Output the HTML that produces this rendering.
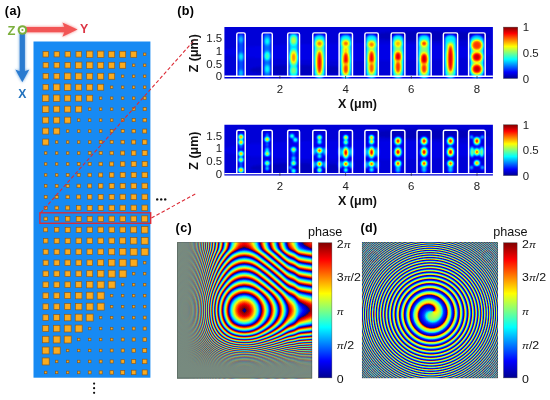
<!DOCTYPE html>
<html><head><meta charset="utf-8"><title>figure</title>
<style>html,body{margin:0;padding:0;background:#fff;width:550px;height:400px;overflow:hidden;font-family:"Liberation Sans",sans-serif}svg text{font-family:"Liberation Sans",sans-serif}.pd{position:absolute;left:0;top:0;width:146.00px;height:146.20px;filter:url(#jmd)}.pw{position:absolute;left:-5px;top:-5px;filter:blur(0.4px)}.pd i{position:absolute;left:0;top:0;width:100%;height:100%;opacity:.5;display:block}:root{--rs:#ffffff 0px,#000000 0px,#ffffff 0px,#ffffff 0.33px,#ffffff 0.67px,#fefefe 1px,#fdfdfd 1.33px,#fdfdfd 1.67px,#fbfbfb 2px,#fafafa 2.33px,#f9f9f9 2.67px,#f7f7f7 3px,#f5f5f5 3.33px,#f3f3f3 3.67px,#f1f1f1 4px,#eeeeee 4.33px,#ececec 4.67px,#e9e9e9 5px,#e6e6e6 5.33px,#e2e2e2 5.67px,#dfdfdf 6px,#dbdbdb 6.33px,#d7d7d7 6.67px,#d3d3d3 7px,#cfcfcf 7.33px,#cbcbcb 7.67px,#c6c6c6 8px,#c1c1c1 8.33px,#bcbcbc 8.67px,#b7b7b7 9px,#b1b1b1 9.33px,#acacac 9.67px,#a6a6a6 10px,#a0a0a0 10.33px,#999999 10.67px,#939393 11px,#8c8c8c 11.33px,#868686 11.67px,#7e7e7e 12px,#777777 12.33px,#707070 12.67px,#686868 13px,#606060 13.33px,#585858 13.67px,#505050 14px,#484848 14.33px,#3f3f3f 14.67px,#363636 15px,#2d2d2d 15.33px,#242424 15.67px,#1b1b1b 16px,#111111 16.33px,#070707 16.67px,#000000 16.9px,#ffffff 16.9px,#fcfcfc 17px,#f2f2f2 17.33px,#e7e7e7 17.67px,#dddddd 18px,#d2d2d2 18.33px,#c7c7c7 18.67px,#bcbcbc 19px,#b0b0b0 19.33px,#a5a5a5 19.67px,#999999 20px,#8d8d8d 20.33px,#818181 20.67px,#747474 21px,#686868 21.33px,#5b5b5b 21.67px,#4e4e4e 22px,#414141 22.33px,#333333 22.67px,#262626 23px,#181818 23.33px,#0a0a0a 23.67px,#000000 23.9px,#ffffff 23.9px,#fbfbfb 24px,#ededed 24.33px,#dedede 24.67px,#cfcfcf 25px,#c0c0c0 25.33px,#b1b1b1 25.67px,#a2a2a2 26px,#929292 26.33px,#828282 26.67px,#727272 27px,#626262 27.33px,#525252 27.67px,#414141 28px,#313131 28.33px,#202020 28.67px,#0e0e0e 29px,#000000 29.28px,#ffffff 29.28px,#fcfcfc 29.33px,#ebebeb 29.67px,#d9d9d9 30px,#c7c7c7 30.33px,#b5b5b5 30.67px,#a2a2a2 31px,#909090 31.33px,#7d7d7d 31.67px,#6a6a6a 32px,#575757 32.33px,#444444 32.67px,#303030 33px,#1c1c1c 33.33px,#080808 33.67px,#000000 33.81px,#ffffff 33.81px,#f3f3f3 34px,#dfdfdf 34.33px,#cacaca 34.67px,#b6b6b6 35px,#a1a1a1 35.33px,#8c8c8c 35.67px,#767676 36px,#616161 36.33px,#4b4b4b 36.67px,#353535 37px,#1f1f1f 37.33px,#090909 37.67px,#000000 37.8px,#ffffff 37.8px,#f1f1f1 38px,#dbdbdb 38.33px,#c4c4c4 38.67px,#adadad 39px,#959595 39.33px,#7e7e7e 39.67px,#666666 40px,#4e4e4e 40.33px,#363636 40.67px,#1e1e1e 41px,#050505 41.33px,#000000 41.4px,#ffffff 41.4px,#ececec 41.67px,#d3d3d3 42px,#bababa 42.33px,#a0a0a0 42.67px,#878787 43px,#6d6d6d 43.33px,#535353 43.67px,#393939 44px,#1f1f1f 44.33px,#040404 44.67px,#000000 44.72px,#ffffff 44.72px,#e9e9e9 45px,#cecece 45.33px,#b3b3b3 45.67px,#979797 46px,#7c7c7c 46.33px,#606060 46.67px,#444444 47px,#282828 47.33px,#0c0c0c 47.67px,#000000 47.81px,#ffffff 47.81px,#efefef 48px,#d2d2d2 48.33px,#b5b5b5 48.67px,#989898 49px,#7b7b7b 49.33px,#5d5d5d 49.67px,#404040 50px,#222222 50.33px,#040404 50.67px,#000000 50.71px,#ffffff 50.71px,#e5e5e5 51px,#c6c6c6 51.33px,#a8a8a8 51.67px,#898989 52px,#6a6a6a 52.33px,#4a4a4a 52.67px,#2b2b2b 53px,#0b0b0b 53.33px,#000000 53.45px,#ffffff 53.45px,#ebebeb 53.67px,#cacaca 54px,#aaaaaa 54.33px,#8a8a8a 54.67px,#696969 55px,#484848 55.33px,#272727 55.67px,#060606 56px,#000000 56.06px,#ffffff 56.06px,#e4e4e4 56.33px,#c2c2c2 56.67px,#a0a0a0 57px,#7e7e7e 57.33px,#5c5c5c 57.67px,#3a3a3a 58px,#171717 58.33px,#000000 58.55px,#ffffff 58.55px,#f3f3f3 58.67px,#d0d0d0 59px,#adadad 59.33px,#8a8a8a 59.67px,#666666 60px,#424242 60.33px,#1e1e1e 60.67px,#000000 60.94px,#ffffff 60.94px,#f9f9f9 61px,#d5d5d5 61.33px,#b0b0b0 61.67px,#8b8b8b 62px,#666666 62.33px,#414141 62.67px,#1c1c1c 63px,#000000 63.25px,#ffffff 63.25px,#f5f5f5 63.33px,#cfcfcf 63.67px,#a9a9a9 64px,#838383 64.33px,#5d5d5d 64.67px,#363636 65px,#0f0f0f 65.33px,#000000 65.47px,#ffffff 65.47px,#e7e7e7 65.67px,#c0c0c0 66px,#999999 66.33px,#717171 66.67px,#4a4a4a 67px,#222222 67.33px,#000000 67.61px,#ffffff 67.61px,#f8f8f8 67.67px,#d0d0d0 68px,#a8a8a8 68.33px,#7f7f7f 68.67px,#565656 69px,#2d2d2d 69.33px,#030303 69.67px,#000000 69.69px,#ffffff 69.69px,#d9d9d9 70px,#afafaf 70.33px,#858585 70.67px,#5b5b5b 71px,#313131 71.33px,#060606 71.67px,#000000 71.71px,#ffffff 71.71px,#dadada 72px,#afafaf 72.33px,#848484 72.67px,#595959 73px,#2d2d2d 73.33px,#020202 73.67px,#000000 73.68px,#ffffff 73.68px,#d5d5d5 74px,#a9a9a9 74.33px,#7c7c7c 74.67px,#505050 75px,#232323 75.33px,#000000 75.59px,#ffffff 75.59px,#f5f5f5 75.67px,#c8c8c8 76px,#9b9b9b 76.33px,#6d6d6d 76.67px,#3f3f3f 77px,#111111 77.33px,#000000 77.46px,#ffffff 77.46px,#e2e2e2 77.67px,#b4b4b4 78px,#868686 78.33px,#575757 78.67px,#282828 79px,#000000 79.28px,#ffffff 79.28px,#f8f8f8 79.33px,#c9c9c9 79.67px,#999999 80px,#696969 80.33px,#393939 80.67px,#090909 81px,#000000 81.06px,#ffffff 81.06px,#d8d8d8 81.33px,#a8a8a8 81.67px,#777777 82px,#464646 82.33px,#151515 82.67px,#000000 82.81px,#ffffff 82.81px,#e3e3e3 83px,#b1b1b1 83.33px,#7f7f7f 83.67px,#4e4e4e 84px,#1b1b1b 84.33px,#000000 84.52px,#ffffff 84.52px,#e8e8e8 84.67px,#b6b6b6 85px,#838383 85.33px,#505050 85.67px,#1d1d1d 86px,#000000 86.19px,#ffffff 86.19px,#e9e9e9 86.33px,#b5b5b5 86.67px,#828282 87px,#4e4e4e 87.33px,#1a1a1a 87.67px,#000000 87.83px,#ffffff 87.83px,#e4e4e4 88px,#b0b0b0 88.33px,#7b7b7b 88.67px,#474747 89px,#111111 89.33px,#000000 89.44px,#ffffff 89.44px,#dbdbdb 89.67px,#a6a6a6 90px,#707070 90.33px,#3a3a3a 90.67px,#040404 91px,#000000 91.03px,#ffffff 91.03px,#cdcdcd 91.33px,#979797 91.67px,#606060 92px,#292929 92.33px,#000000 92.58px,#ffffff 92.58px,#f1f1f1 92.67px,#bababa 93px,#828282 93.33px,#4b4b4b 93.67px,#131313 94px,#000000 94.11px,#ffffff 94.11px,#dadada 94.33px,#a2a2a2 94.67px,#696969 95px,#313131 95.33px,#000000 95.62px,#ffffff 95.62px,#f7f7f7 95.67px,#bebebe 96px,#858585 96.33px,#4b4b4b 96.67px,#111111 97px,#000000 97.1px,#ffffff 97.1px,#d7d7d7 97.33px,#9d9d9d 97.67px,#626262 98px,#282828 98.33px,#000000 98.56px,#ffffff 98.56px,#ececec 98.67px,#b2b2b2 99px,#777777 99.33px,#3b3b3b 99.67px,#000000 100px,#000000 100px,#ffffff 100px,#c3c3c3 100.33px,#888888 100.67px,#4c4c4c 101px,#0f0f0f 101.33px,#000000 101.42px,#ffffff 101.42px,#d2d2d2 101.67px,#959595 102px,#595959 102.33px,#1c1c1c 102.67px,#000000 102.82px,#ffffff 102.82px,#dddddd 103px,#a0a0a0 103.33px,#636363 103.67px,#252525 104px,#000000 104.2px,#ffffff 104.2px,#e6e6e6 104.33px,#a8a8a8 104.67px,#696969 105px,#2b2b2b 105.33px,#000000 105.56px,#ffffff 105.56px,#ebebeb 105.67px,#acacac 106px,#6d6d6d 106.33px,#2d2d2d 106.67px,#000000 106.9px,#ffffff 106.9px,#ededed 107px,#adadad 107.33px,#6d6d6d 107.67px,#2d2d2d 108px,#000000 108.23px,#ffffff 108.23px,#ececec 108.33px,#ababab 108.67px,#6a6a6a 109px,#292929 109.33px,#000000 109.54px,#ffffff 109.54px,#e7e7e7 109.67px,#a6a6a6 110px}</style></head>
<body>
<svg width="550" height="400" viewBox="0 0 550 400" style="position:absolute;left:0;top:0">
<defs><filter id="jm" color-interpolation-filters="sRGB" x="0" y="0" width="1" height="1"><feComponentTransfer><feFuncR type="discrete" tableValues="0 0 0 0 0 0 0 0 0 0 0 0 0 0 0 0 0 0 0 0 0 0 0 0 0 0 0 0 0 0 0 0 0 0 0 0 0 0 0 0 0 0 0 0 0 0 0 0 0.006 0.037 0.069 0.1 0.131 0.163 0.194 0.225 0.257 0.288 0.32 0.351 0.382 0.414 0.445 0.476 0.508 0.539 0.571 0.602 0.633 0.665 0.696 0.727 0.759 0.79 0.822 0.853 0.884 0.916 0.947 0.978 1 1 1 1 1 1 1 1 1 1 1 1 1 1 1 1 1 1 1 1 1 1 1 1 1 1 1 1 1 1 1 1 0.986 0.955 0.924 0.892 0.861 0.829 0.798 0.767 0.735 0.704 0.673 0.641 0.61 0.578 0.547 0.516 0 0 0 0 0 0 0 0 0 0 0 0 0 0 0 0 0 0 0 0 0 0 0 0 0 0 0 0 0 0 0 0 0 0 0 0 0 0 0 0 0 0 0 0 0 0 0 0 0.022 0.053 0.084 0.116 0.147 0.178 0.21 0.241 0.273 0.304 0.335 0.367 0.398 0.429 0.461 0.492 0.524 0.555 0.586 0.618 0.649 0.68 0.712 0.743 0.775 0.806 0.837 0.869 0.9 0.931 0.963 0.994 1 1 1 1 1 1 1 1 1 1 1 1 1 1 1 1 1 1 1 1 1 1 1 1 1 1 1 1 1 1 1 1 0.971 0.939 0.908 0.876 0.845 0.814 0.782 0.751 0.72 0.688 0.657 0.625 0.594 0.563 0.531 0"/><feFuncG type="discrete" tableValues="0 0 0 0 0 0 0 0 0 0 0 0 0 0 0 0 0.002 0.033 0.065 0.096 0.127 0.159 0.19 0.222 0.253 0.284 0.316 0.347 0.378 0.41 0.441 0.473 0.504 0.535 0.567 0.598 0.629 0.661 0.692 0.724 0.755 0.786 0.818 0.849 0.88 0.912 0.943 0.975 1 1 1 1 1 1 1 1 1 1 1 1 1 1 1 1 1 1 1 1 1 1 1 1 1 1 1 1 1 1 1 1 0.99 0.959 0.927 0.896 0.865 0.833 0.802 0.771 0.739 0.708 0.676 0.645 0.614 0.582 0.551 0.52 0.488 0.457 0.425 0.394 0.363 0.331 0.3 0.269 0.237 0.206 0.175 0.143 0.112 0.08 0.049 0.018 0 0 0 0 0 0 0 0 0 0 0 0 0 0 0 0 0 0 0 0 0 0 0 0 0 0 0 0 0 0 0 0 0.018 0.049 0.08 0.112 0.143 0.175 0.206 0.237 0.269 0.3 0.331 0.363 0.394 0.425 0.457 0.488 0.52 0.551 0.582 0.614 0.645 0.676 0.708 0.739 0.771 0.802 0.833 0.865 0.896 0.927 0.959 0.99 1 1 1 1 1 1 1 1 1 1 1 1 1 1 1 1 1 1 1 1 1 1 1 1 1 1 1 1 1 1 1 1 0.975 0.943 0.912 0.88 0.849 0.818 0.786 0.755 0.724 0.692 0.661 0.629 0.598 0.567 0.535 0.504 0.473 0.441 0.41 0.378 0.347 0.316 0.284 0.253 0.222 0.19 0.159 0.127 0.096 0.065 0.033 0.002 0 0 0 0 0 0 0 0 0 0 0 0 0 0 0 0"/><feFuncB type="discrete" tableValues="0.5 0.531 0.563 0.594 0.625 0.657 0.688 0.72 0.751 0.782 0.814 0.845 0.876 0.908 0.939 0.971 1 1 1 1 1 1 1 1 1 1 1 1 1 1 1 1 1 1 1 1 1 1 1 1 1 1 1 1 1 1 1 1 0.994 0.963 0.931 0.9 0.869 0.837 0.806 0.775 0.743 0.712 0.68 0.649 0.618 0.586 0.555 0.524 0.492 0.461 0.429 0.398 0.367 0.335 0.304 0.273 0.241 0.21 0.178 0.147 0.116 0.084 0.053 0.022 0 0 0 0 0 0 0 0 0 0 0 0 0 0 0 0 0 0 0 0 0 0 0 0 0 0 0 0 0 0 0 0 0 0 0 0 0 0 0 0 0 0 0 0 0 0 0 0 0.516 0.547 0.578 0.61 0.641 0.673 0.704 0.735 0.767 0.798 0.829 0.861 0.892 0.924 0.955 0.986 1 1 1 1 1 1 1 1 1 1 1 1 1 1 1 1 1 1 1 1 1 1 1 1 1 1 1 1 1 1 1 1 0.978 0.947 0.916 0.884 0.853 0.822 0.79 0.759 0.727 0.696 0.665 0.633 0.602 0.571 0.539 0.508 0.476 0.445 0.414 0.382 0.351 0.32 0.288 0.257 0.225 0.194 0.163 0.131 0.1 0.069 0.037 0.006 0 0 0 0 0 0 0 0 0 0 0 0 0 0 0 0 0 0 0 0 0 0 0 0 0 0 0 0 0 0 0 0 0 0 0 0 0 0 0 0 0 0 0 0 0 0 0 0.5"/></feComponentTransfer></filter>
<filter id="glow" x="-50%" y="-50%" width="200%" height="200%"><feGaussianBlur stdDeviation="1.7"/></filter>
<linearGradient id="jet" x1="0" y1="1" x2="0" y2="0"><stop offset="0" stop-color="#00008f"/><stop offset=".125" stop-color="#0000ff"/><stop offset=".375" stop-color="#00ffff"/><stop offset=".625" stop-color="#ffff00"/><stop offset=".875" stop-color="#ff0000"/><stop offset="1" stop-color="#800000"/></linearGradient>
<filter id="jht" color-interpolation-filters="sRGB" filterUnits="userSpaceOnUse" x="200" y="0" width="320" height="200"><feGaussianBlur stdDeviation="0.9"/><feComponentTransfer><feFuncR type="table" tableValues="0 0 0 0 .5 1 1 1 .5"/><feFuncG type="table" tableValues="0 0 .5 1 1 1 .5 0 0"/><feFuncB type="table" tableValues=".5 1 1 1 .5 0 0 0 0"/></feComponentTransfer></filter>
<clipPath id="cpt"><rect x="224.4" y="27.1" width="268.5" height="51.4"/></clipPath>
<filter id="jhb" color-interpolation-filters="sRGB" filterUnits="userSpaceOnUse" x="200" y="0" width="320" height="200"><feGaussianBlur stdDeviation="0.85"/><feComponentTransfer><feFuncR type="table" tableValues="0 0 0 0 .5 1 1 1 .5"/><feFuncG type="table" tableValues="0 0 .5 1 1 1 .5 0 0"/><feFuncB type="table" tableValues=".5 1 1 1 .5 0 0 0 0"/></feComponentTransfer></filter>
<clipPath id="cpb"><rect x="224.4" y="124.8" width="268.5" height="50.8"/></clipPath>
<linearGradient id="gu" gradientUnits="userSpaceOnUse" x1="0" y1="0" x2="135.10" y2="0"><stop offset="0" stop-color="#9d9d9d"/><stop offset="0.0022" stop-color="#ffffff"/><stop offset="0.0022" stop-color="#000000"/><stop offset="0.0025" stop-color="#0a0a0a"/><stop offset="0.0049" stop-color="#757575"/><stop offset="0.0074" stop-color="#dfdfdf"/><stop offset="0.0082" stop-color="#ffffff"/><stop offset="0.0082" stop-color="#000000"/><stop offset="0.0099" stop-color="#484848"/><stop offset="0.0123" stop-color="#b0b0b0"/><stop offset="0.0142" stop-color="#ffffff"/><stop offset="0.0142" stop-color="#000000"/><stop offset="0.0148" stop-color="#181818"/><stop offset="0.0173" stop-color="#7d7d7d"/><stop offset="0.0198" stop-color="#e2e2e2"/><stop offset="0.0205" stop-color="#ffffff"/><stop offset="0.0205" stop-color="#000000"/><stop offset="0.0222" stop-color="#474747"/><stop offset="0.0247" stop-color="#aaaaaa"/><stop offset="0.0268" stop-color="#ffffff"/><stop offset="0.0268" stop-color="#000000"/><stop offset="0.0272" stop-color="#0d0d0d"/><stop offset="0.0296" stop-color="#6f6f6f"/><stop offset="0.0321" stop-color="#cfcfcf"/><stop offset="0.0333" stop-color="#ffffff"/><stop offset="0.0333" stop-color="#000000"/><stop offset="0.0346" stop-color="#303030"/><stop offset="0.037" stop-color="#8f8f8f"/><stop offset="0.0395" stop-color="#ededed"/><stop offset="0.04" stop-color="#ffffff"/><stop offset="0.04" stop-color="#000000"/><stop offset="0.042" stop-color="#4c4c4c"/><stop offset="0.0444" stop-color="#a8a8a8"/><stop offset="0.0468" stop-color="#ffffff"/><stop offset="0.0468" stop-color="#000000"/><stop offset="0.0469" stop-color="#040404"/><stop offset="0.0494" stop-color="#5f5f5f"/><stop offset="0.0519" stop-color="#b8b8b8"/><stop offset="0.0538" stop-color="#ffffff"/><stop offset="0.0538" stop-color="#000000"/><stop offset="0.0543" stop-color="#121212"/><stop offset="0.0568" stop-color="#6a6a6a"/><stop offset="0.0593" stop-color="#c1c1c1"/><stop offset="0.061" stop-color="#ffffff"/><stop offset="0.061" stop-color="#000000"/><stop offset="0.0617" stop-color="#181818"/><stop offset="0.0642" stop-color="#6d6d6d"/><stop offset="0.0667" stop-color="#c2c2c2"/><stop offset="0.0685" stop-color="#ffffff"/><stop offset="0.0685" stop-color="#000000"/><stop offset="0.0691" stop-color="#171717"/><stop offset="0.0716" stop-color="#6a6a6a"/><stop offset="0.0741" stop-color="#bcbcbc"/><stop offset="0.0761" stop-color="#ffffff"/><stop offset="0.0761" stop-color="#000000"/><stop offset="0.0765" stop-color="#0f0f0f"/><stop offset="0.079" stop-color="#606060"/><stop offset="0.0815" stop-color="#b0b0b0"/><stop offset="0.084" stop-color="#ffffff"/><stop offset="0.084" stop-color="#ffffff"/><stop offset="0.084" stop-color="#000000"/><stop offset="0.0864" stop-color="#4e4e4e"/><stop offset="0.0889" stop-color="#9b9b9b"/><stop offset="0.0914" stop-color="#e8e8e8"/><stop offset="0.0921" stop-color="#ffffff"/><stop offset="0.0921" stop-color="#000000"/><stop offset="0.0938" stop-color="#343434"/><stop offset="0.0963" stop-color="#7f7f7f"/><stop offset="0.0988" stop-color="#cacaca"/><stop offset="0.1006" stop-color="#ffffff"/><stop offset="0.1006" stop-color="#000000"/><stop offset="0.1012" stop-color="#141414"/><stop offset="0.1037" stop-color="#5d5d5d"/><stop offset="0.1062" stop-color="#a6a6a6"/><stop offset="0.1086" stop-color="#ededed"/><stop offset="0.1093" stop-color="#ffffff"/><stop offset="0.1093" stop-color="#000000"/><stop offset="0.1111" stop-color="#353535"/><stop offset="0.1136" stop-color="#7b7b7b"/><stop offset="0.116" stop-color="#c0c0c0"/><stop offset="0.1183" stop-color="#ffffff"/><stop offset="0.1183" stop-color="#000000"/><stop offset="0.1185" stop-color="#060606"/><stop offset="0.121" stop-color="#4a4a4a"/><stop offset="0.1235" stop-color="#8c8c8c"/><stop offset="0.1259" stop-color="#cecece"/><stop offset="0.1278" stop-color="#ffffff"/><stop offset="0.1278" stop-color="#000000"/><stop offset="0.1284" stop-color="#111111"/><stop offset="0.1309" stop-color="#515151"/><stop offset="0.1333" stop-color="#919191"/><stop offset="0.1358" stop-color="#d0d0d0"/><stop offset="0.1377" stop-color="#ffffff"/><stop offset="0.1377" stop-color="#000000"/><stop offset="0.1383" stop-color="#0f0f0f"/><stop offset="0.1407" stop-color="#4d4d4d"/><stop offset="0.1432" stop-color="#8a8a8a"/><stop offset="0.1457" stop-color="#c6c6c6"/><stop offset="0.148" stop-color="#ffffff"/><stop offset="0.148" stop-color="#000000"/><stop offset="0.1481" stop-color="#030303"/><stop offset="0.1506" stop-color="#3e3e3e"/><stop offset="0.1531" stop-color="#787878"/><stop offset="0.1556" stop-color="#b2b2b2"/><stop offset="0.158" stop-color="#ebebeb"/><stop offset="0.1589" stop-color="#ffffff"/><stop offset="0.1589" stop-color="#000000"/><stop offset="0.1605" stop-color="#252525"/><stop offset="0.163" stop-color="#5d5d5d"/><stop offset="0.1654" stop-color="#959595"/><stop offset="0.1679" stop-color="#cbcbcb"/><stop offset="0.1703" stop-color="#ffffff"/><stop offset="0.1703" stop-color="#000000"/><stop offset="0.1704" stop-color="#020202"/><stop offset="0.1728" stop-color="#373737"/><stop offset="0.1753" stop-color="#6c6c6c"/><stop offset="0.1778" stop-color="#a0a0a0"/><stop offset="0.1802" stop-color="#d3d3d3"/><stop offset="0.1824" stop-color="#ffffff"/><stop offset="0.1824" stop-color="#000000"/><stop offset="0.1827" stop-color="#060606"/><stop offset="0.1852" stop-color="#383838"/><stop offset="0.1877" stop-color="#696969"/><stop offset="0.1901" stop-color="#999999"/><stop offset="0.1926" stop-color="#c8c8c8"/><stop offset="0.1951" stop-color="#f7f7f7"/><stop offset="0.1955" stop-color="#ffffff"/><stop offset="0.1955" stop-color="#000000"/><stop offset="0.1975" stop-color="#272727"/><stop offset="0.2" stop-color="#545454"/><stop offset="0.2025" stop-color="#828282"/><stop offset="0.2049" stop-color="#aeaeae"/><stop offset="0.2074" stop-color="#dadada"/><stop offset="0.2095" stop-color="#ffffff"/><stop offset="0.2095" stop-color="#000000"/><stop offset="0.2099" stop-color="#070707"/><stop offset="0.2123" stop-color="#323232"/><stop offset="0.2148" stop-color="#5c5c5c"/><stop offset="0.2173" stop-color="#868686"/><stop offset="0.2198" stop-color="#afafaf"/><stop offset="0.2222" stop-color="#d7d7d7"/><stop offset="0.2246" stop-color="#ffffff"/><stop offset="0.2246" stop-color="#000000"/><stop offset="0.2247" stop-color="#010101"/><stop offset="0.2272" stop-color="#292929"/><stop offset="0.2296" stop-color="#505050"/><stop offset="0.2321" stop-color="#777777"/><stop offset="0.2346" stop-color="#9e9e9e"/><stop offset="0.237" stop-color="#c4c4c4"/><stop offset="0.2395" stop-color="#eaeaea"/><stop offset="0.2409" stop-color="#ffffff"/><stop offset="0.2409" stop-color="#000000"/><stop offset="0.242" stop-color="#101010"/><stop offset="0.2444" stop-color="#343434"/><stop offset="0.2469" stop-color="#595959"/><stop offset="0.2494" stop-color="#7d7d7d"/><stop offset="0.2519" stop-color="#a1a1a1"/><stop offset="0.2543" stop-color="#c3c3c3"/><stop offset="0.2568" stop-color="#e5e5e5"/><stop offset="0.2587" stop-color="#ffffff"/><stop offset="0.2587" stop-color="#000000"/><stop offset="0.2593" stop-color="#070707"/><stop offset="0.2617" stop-color="#282828"/><stop offset="0.2642" stop-color="#484848"/><stop offset="0.2667" stop-color="#676767"/><stop offset="0.2691" stop-color="#858585"/><stop offset="0.2716" stop-color="#a4a4a4"/><stop offset="0.2741" stop-color="#c1c1c1"/><stop offset="0.2765" stop-color="#dedede"/><stop offset="0.279" stop-color="#fafafa"/><stop offset="0.2794" stop-color="#ffffff"/><stop offset="0.2794" stop-color="#000000"/><stop offset="0.2815" stop-color="#171717"/><stop offset="0.284" stop-color="#333333"/><stop offset="0.2864" stop-color="#4e4e4e"/><stop offset="0.2889" stop-color="#696969"/><stop offset="0.2914" stop-color="#848484"/><stop offset="0.2938" stop-color="#9d9d9d"/><stop offset="0.2963" stop-color="#b7b7b7"/><stop offset="0.2988" stop-color="#cfcfcf"/><stop offset="0.3012" stop-color="#e7e7e7"/><stop offset="0.3037" stop-color="#fefefe"/><stop offset="0.3039" stop-color="#ffffff"/><stop offset="0.3039" stop-color="#000000"/><stop offset="0.3062" stop-color="#151515"/><stop offset="0.3086" stop-color="#2a2a2a"/><stop offset="0.3111" stop-color="#3f3f3f"/><stop offset="0.3136" stop-color="#545454"/><stop offset="0.316" stop-color="#686868"/><stop offset="0.3185" stop-color="#7c7c7c"/><stop offset="0.321" stop-color="#8f8f8f"/><stop offset="0.3235" stop-color="#a2a2a2"/><stop offset="0.3259" stop-color="#b5b5b5"/><stop offset="0.3284" stop-color="#c7c7c7"/><stop offset="0.3309" stop-color="#d9d9d9"/><stop offset="0.3333" stop-color="#eaeaea"/><stop offset="0.3358" stop-color="#fbfbfb"/><stop offset="0.3364" stop-color="#ffffff"/><stop offset="0.3364" stop-color="#000000"/><stop offset="0.3383" stop-color="#0c0c0c"/><stop offset="0.3407" stop-color="#1d1d1d"/><stop offset="0.3432" stop-color="#2d2d2d"/><stop offset="0.3457" stop-color="#3d3d3d"/><stop offset="0.3481" stop-color="#4d4d4d"/><stop offset="0.3506" stop-color="#5c5c5c"/><stop offset="0.3531" stop-color="#6b6b6b"/><stop offset="0.3556" stop-color="#7a7a7a"/><stop offset="0.358" stop-color="#898989"/><stop offset="0.3605" stop-color="#979797"/><stop offset="0.363" stop-color="#a5a5a5"/><stop offset="0.3654" stop-color="#b3b3b3"/><stop offset="0.3679" stop-color="#c1c1c1"/><stop offset="0.3704" stop-color="#cecece"/><stop offset="0.3728" stop-color="#dbdbdb"/><stop offset="0.3753" stop-color="#e8e8e8"/><stop offset="0.3778" stop-color="#f4f4f4"/><stop offset="0.3801" stop-color="#ffffff"/><stop offset="0.3801" stop-color="#000000"/><stop offset="0.3802" stop-color="#010101"/><stop offset="0.3827" stop-color="#0c0c0c"/><stop offset="0.3852" stop-color="#181818"/><stop offset="0.3877" stop-color="#232323"/><stop offset="0.3901" stop-color="#2e2e2e"/><stop offset="0.3926" stop-color="#393939"/><stop offset="0.3951" stop-color="#434343"/><stop offset="0.3975" stop-color="#4d4d4d"/><stop offset="0.4" stop-color="#575757"/><stop offset="0.4025" stop-color="#606060"/><stop offset="0.4049" stop-color="#696969"/><stop offset="0.4074" stop-color="#727272"/><stop offset="0.4099" stop-color="#7a7a7a"/><stop offset="0.4123" stop-color="#818181"/><stop offset="0.4148" stop-color="#888888"/><stop offset="0.4173" stop-color="#909090"/><stop offset="0.4198" stop-color="#969696"/><stop offset="0.4222" stop-color="#9d9d9d"/><stop offset="0.4247" stop-color="#a3a3a3"/><stop offset="0.4272" stop-color="#aaaaaa"/><stop offset="0.4296" stop-color="#afafaf"/><stop offset="0.4321" stop-color="#b5b5b5"/><stop offset="0.4346" stop-color="#bababa"/><stop offset="0.437" stop-color="#bfbfbf"/><stop offset="0.4395" stop-color="#c4c4c4"/><stop offset="0.442" stop-color="#c9c9c9"/><stop offset="0.4444" stop-color="#cecece"/><stop offset="0.4469" stop-color="#d2d2d2"/><stop offset="0.4494" stop-color="#d7d7d7"/><stop offset="0.4519" stop-color="#dbdbdb"/><stop offset="0.4543" stop-color="#dfdfdf"/><stop offset="0.4568" stop-color="#e3e3e3"/><stop offset="0.4593" stop-color="#e6e6e6"/><stop offset="0.4617" stop-color="#e9e9e9"/><stop offset="0.4642" stop-color="#ececec"/><stop offset="0.4667" stop-color="#efefef"/><stop offset="0.4691" stop-color="#f1f1f1"/><stop offset="0.4716" stop-color="#f3f3f3"/><stop offset="0.4741" stop-color="#f4f4f4"/><stop offset="0.4765" stop-color="#f6f6f6"/><stop offset="0.479" stop-color="#f8f8f8"/><stop offset="0.4815" stop-color="#f9f9f9"/><stop offset="0.484" stop-color="#fbfbfb"/><stop offset="0.4864" stop-color="#fcfcfc"/><stop offset="0.4889" stop-color="#fdfdfd"/><stop offset="0.4914" stop-color="#fefefe"/><stop offset="0.4938" stop-color="#ffffff"/><stop offset="0.4963" stop-color="#ffffff"/><stop offset="0.4988" stop-color="#ffffff"/><stop offset="0.5012" stop-color="#ffffff"/><stop offset="0.5037" stop-color="#fefefe"/><stop offset="0.5062" stop-color="#fefefe"/><stop offset="0.5086" stop-color="#fdfdfd"/><stop offset="0.5111" stop-color="#fcfcfc"/><stop offset="0.5136" stop-color="#fafafa"/><stop offset="0.516" stop-color="#f9f9f9"/><stop offset="0.5185" stop-color="#f7f7f7"/><stop offset="0.521" stop-color="#f6f6f6"/><stop offset="0.5235" stop-color="#f4f4f4"/><stop offset="0.5259" stop-color="#f2f2f2"/><stop offset="0.5284" stop-color="#f1f1f1"/><stop offset="0.5309" stop-color="#eeeeee"/><stop offset="0.5333" stop-color="#ececec"/><stop offset="0.5358" stop-color="#e9e9e9"/><stop offset="0.5383" stop-color="#e6e6e6"/><stop offset="0.5407" stop-color="#e3e3e3"/><stop offset="0.5432" stop-color="#dfdfdf"/><stop offset="0.5457" stop-color="#dbdbdb"/><stop offset="0.5481" stop-color="#d7d7d7"/><stop offset="0.5506" stop-color="#d3d3d3"/><stop offset="0.5531" stop-color="#cfcfcf"/><stop offset="0.5556" stop-color="#cacaca"/><stop offset="0.558" stop-color="#c6c6c6"/><stop offset="0.5605" stop-color="#c1c1c1"/><stop offset="0.563" stop-color="#bcbcbc"/><stop offset="0.5654" stop-color="#b7b7b7"/><stop offset="0.5679" stop-color="#b1b1b1"/><stop offset="0.5704" stop-color="#ababab"/><stop offset="0.5728" stop-color="#a5a5a5"/><stop offset="0.5753" stop-color="#9f9f9f"/><stop offset="0.5778" stop-color="#989898"/><stop offset="0.5802" stop-color="#929292"/><stop offset="0.5827" stop-color="#8b8b8b"/><stop offset="0.5852" stop-color="#848484"/><stop offset="0.5877" stop-color="#7e7e7e"/><stop offset="0.5901" stop-color="#777777"/><stop offset="0.5926" stop-color="#6f6f6f"/><stop offset="0.5951" stop-color="#686868"/><stop offset="0.5975" stop-color="#606060"/><stop offset="0.6" stop-color="#585858"/><stop offset="0.6025" stop-color="#505050"/><stop offset="0.6049" stop-color="#474747"/><stop offset="0.6074" stop-color="#3f3f3f"/><stop offset="0.6099" stop-color="#373737"/><stop offset="0.6123" stop-color="#2e2e2e"/><stop offset="0.6148" stop-color="#252525"/><stop offset="0.6173" stop-color="#1d1d1d"/><stop offset="0.6198" stop-color="#141414"/><stop offset="0.6222" stop-color="#0b0b0b"/><stop offset="0.6247" stop-color="#030303"/><stop offset="0.6255" stop-color="#000000"/><stop offset="0.6255" stop-color="#ffffff"/><stop offset="0.6272" stop-color="#f9f9f9"/><stop offset="0.6296" stop-color="#f0f0f0"/><stop offset="0.6321" stop-color="#e8e8e8"/><stop offset="0.6346" stop-color="#dfdfdf"/><stop offset="0.637" stop-color="#d6d6d6"/><stop offset="0.6395" stop-color="#cdcdcd"/><stop offset="0.642" stop-color="#c4c4c4"/><stop offset="0.6444" stop-color="#bbbbbb"/><stop offset="0.6469" stop-color="#b2b2b2"/><stop offset="0.6494" stop-color="#a9a9a9"/><stop offset="0.6519" stop-color="#a0a0a0"/><stop offset="0.6543" stop-color="#979797"/><stop offset="0.6568" stop-color="#8e8e8e"/><stop offset="0.6593" stop-color="#858585"/><stop offset="0.6617" stop-color="#7c7c7c"/><stop offset="0.6642" stop-color="#727272"/><stop offset="0.6667" stop-color="#696969"/><stop offset="0.6691" stop-color="#606060"/><stop offset="0.6716" stop-color="#565656"/><stop offset="0.6741" stop-color="#4d4d4d"/><stop offset="0.6765" stop-color="#444444"/><stop offset="0.679" stop-color="#3a3a3a"/><stop offset="0.6815" stop-color="#313131"/><stop offset="0.684" stop-color="#282828"/><stop offset="0.6864" stop-color="#1e1e1e"/><stop offset="0.6889" stop-color="#151515"/><stop offset="0.6914" stop-color="#0b0b0b"/><stop offset="0.6938" stop-color="#020202"/><stop offset="0.6943" stop-color="#000000"/><stop offset="0.6943" stop-color="#ffffff"/><stop offset="0.6963" stop-color="#f7f7f7"/><stop offset="0.6988" stop-color="#eeeeee"/><stop offset="0.7012" stop-color="#e4e4e4"/><stop offset="0.7037" stop-color="#dbdbdb"/><stop offset="0.7062" stop-color="#d1d1d1"/><stop offset="0.7086" stop-color="#c7c7c7"/><stop offset="0.7111" stop-color="#bdbdbd"/><stop offset="0.7136" stop-color="#b4b4b4"/><stop offset="0.716" stop-color="#aaaaaa"/><stop offset="0.7185" stop-color="#a0a0a0"/><stop offset="0.721" stop-color="#969696"/><stop offset="0.7235" stop-color="#8c8c8c"/><stop offset="0.7259" stop-color="#828282"/><stop offset="0.7284" stop-color="#787878"/><stop offset="0.7309" stop-color="#6e6e6e"/><stop offset="0.7333" stop-color="#646464"/><stop offset="0.7358" stop-color="#5b5b5b"/><stop offset="0.7383" stop-color="#515151"/><stop offset="0.7407" stop-color="#474747"/><stop offset="0.7432" stop-color="#3d3d3d"/><stop offset="0.7457" stop-color="#333333"/><stop offset="0.7481" stop-color="#292929"/><stop offset="0.7506" stop-color="#202020"/><stop offset="0.7531" stop-color="#161616"/><stop offset="0.7556" stop-color="#0c0c0c"/><stop offset="0.758" stop-color="#030303"/><stop offset="0.7587" stop-color="#000000"/><stop offset="0.7587" stop-color="#ffffff"/><stop offset="0.7605" stop-color="#f8f8f8"/><stop offset="0.763" stop-color="#eeeeee"/><stop offset="0.7654" stop-color="#e4e4e4"/><stop offset="0.7679" stop-color="#dadada"/><stop offset="0.7704" stop-color="#d0d0d0"/><stop offset="0.7728" stop-color="#c6c6c6"/><stop offset="0.7753" stop-color="#bcbcbc"/><stop offset="0.7778" stop-color="#b2b2b2"/><stop offset="0.7802" stop-color="#a7a7a7"/><stop offset="0.7827" stop-color="#9d9d9d"/><stop offset="0.7852" stop-color="#939393"/><stop offset="0.7877" stop-color="#898989"/><stop offset="0.7901" stop-color="#7e7e7e"/><stop offset="0.7926" stop-color="#747474"/><stop offset="0.7951" stop-color="#6a6a6a"/><stop offset="0.7975" stop-color="#616161"/><stop offset="0.8" stop-color="#575757"/><stop offset="0.8025" stop-color="#4e4e4e"/><stop offset="0.8049" stop-color="#444444"/><stop offset="0.8074" stop-color="#3b3b3b"/><stop offset="0.8099" stop-color="#323232"/><stop offset="0.8123" stop-color="#2a2a2a"/><stop offset="0.8148" stop-color="#222222"/><stop offset="0.8173" stop-color="#1a1a1a"/><stop offset="0.8198" stop-color="#121212"/><stop offset="0.8222" stop-color="#0b0b0b"/><stop offset="0.8247" stop-color="#040404"/><stop offset="0.8261" stop-color="#000000"/><stop offset="0.8261" stop-color="#ffffff"/><stop offset="0.8272" stop-color="#fcfcfc"/><stop offset="0.8296" stop-color="#f6f6f6"/><stop offset="0.8321" stop-color="#f0f0f0"/><stop offset="0.8346" stop-color="#ebebeb"/><stop offset="0.837" stop-color="#e5e5e5"/><stop offset="0.8395" stop-color="#e0e0e0"/><stop offset="0.842" stop-color="#dcdcdc"/><stop offset="0.8444" stop-color="#d7d7d7"/><stop offset="0.8469" stop-color="#d2d2d2"/><stop offset="0.8494" stop-color="#cecece"/><stop offset="0.8519" stop-color="#c9c9c9"/><stop offset="0.8543" stop-color="#c4c4c4"/><stop offset="0.8568" stop-color="#bfbfbf"/><stop offset="0.8593" stop-color="#bababa"/><stop offset="0.8617" stop-color="#b5b5b5"/><stop offset="0.8642" stop-color="#afafaf"/><stop offset="0.8667" stop-color="#aaaaaa"/><stop offset="0.8691" stop-color="#a3a3a3"/><stop offset="0.8716" stop-color="#9d9d9d"/><stop offset="0.8741" stop-color="#959595"/><stop offset="0.8765" stop-color="#8e8e8e"/><stop offset="0.879" stop-color="#868686"/><stop offset="0.8815" stop-color="#7e7e7e"/><stop offset="0.884" stop-color="#767676"/><stop offset="0.8864" stop-color="#6e6e6e"/><stop offset="0.8889" stop-color="#676767"/><stop offset="0.8914" stop-color="#606060"/><stop offset="0.8938" stop-color="#595959"/><stop offset="0.8963" stop-color="#525252"/><stop offset="0.8988" stop-color="#4c4c4c"/><stop offset="0.9012" stop-color="#464646"/><stop offset="0.9037" stop-color="#414141"/><stop offset="0.9062" stop-color="#3d3d3d"/><stop offset="0.9086" stop-color="#3a3a3a"/><stop offset="0.9111" stop-color="#373737"/><stop offset="0.9136" stop-color="#343434"/><stop offset="0.916" stop-color="#313131"/><stop offset="0.9185" stop-color="#2e2e2e"/><stop offset="0.921" stop-color="#2c2c2c"/><stop offset="0.9235" stop-color="#292929"/><stop offset="0.9259" stop-color="#272727"/><stop offset="0.9284" stop-color="#252525"/><stop offset="0.9309" stop-color="#232323"/><stop offset="0.9333" stop-color="#212121"/><stop offset="0.9358" stop-color="#1f1f1f"/><stop offset="0.9383" stop-color="#1d1d1d"/><stop offset="0.9407" stop-color="#1b1b1b"/><stop offset="0.9432" stop-color="#191919"/><stop offset="0.9457" stop-color="#171717"/><stop offset="0.9481" stop-color="#151515"/><stop offset="0.9506" stop-color="#131313"/><stop offset="0.9531" stop-color="#111111"/><stop offset="0.9556" stop-color="#0f0f0f"/><stop offset="0.958" stop-color="#0d0d0d"/><stop offset="0.9605" stop-color="#0c0c0c"/><stop offset="0.963" stop-color="#0a0a0a"/><stop offset="0.9654" stop-color="#080808"/><stop offset="0.9679" stop-color="#060606"/><stop offset="0.9704" stop-color="#050505"/><stop offset="0.9728" stop-color="#030303"/><stop offset="0.9753" stop-color="#010101"/><stop offset="0.977" stop-color="#000000"/><stop offset="0.977" stop-color="#ffffff"/><stop offset="0.9778" stop-color="#fefefe"/><stop offset="0.9802" stop-color="#fdfdfd"/><stop offset="0.9827" stop-color="#fbfbfb"/><stop offset="0.9852" stop-color="#f8f8f8"/><stop offset="0.9877" stop-color="#f6f6f6"/><stop offset="0.9901" stop-color="#f4f4f4"/><stop offset="0.9926" stop-color="#f2f2f2"/><stop offset="0.9951" stop-color="#f1f1f1"/><stop offset="0.9975" stop-color="#efefef"/><stop offset="1" stop-color="#eeeeee"/></linearGradient>
<linearGradient id="gv" gradientUnits="userSpaceOnUse" x1="0" y1="0" x2="0" y2="136.20"><stop offset="0" stop-color="#dcdcdc"/><stop offset="0.0025" stop-color="#dddddd"/><stop offset="0.0049" stop-color="#dedede"/><stop offset="0.0074" stop-color="#dfdfdf"/><stop offset="0.0098" stop-color="#e0e0e0"/><stop offset="0.0123" stop-color="#e2e2e2"/><stop offset="0.0147" stop-color="#e3e3e3"/><stop offset="0.0172" stop-color="#e5e5e5"/><stop offset="0.0196" stop-color="#e8e8e8"/><stop offset="0.0221" stop-color="#eaeaea"/><stop offset="0.0245" stop-color="#ededed"/><stop offset="0.027" stop-color="#f0f0f0"/><stop offset="0.0294" stop-color="#f3f3f3"/><stop offset="0.0319" stop-color="#f6f6f6"/><stop offset="0.0343" stop-color="#f9f9f9"/><stop offset="0.0368" stop-color="#fdfdfd"/><stop offset="0.0385" stop-color="#ffffff"/><stop offset="0.0385" stop-color="#000000"/><stop offset="0.0392" stop-color="#010101"/><stop offset="0.0417" stop-color="#050505"/><stop offset="0.0441" stop-color="#090909"/><stop offset="0.0466" stop-color="#0e0e0e"/><stop offset="0.049" stop-color="#141414"/><stop offset="0.0515" stop-color="#1b1b1b"/><stop offset="0.0539" stop-color="#222222"/><stop offset="0.0564" stop-color="#2b2b2b"/><stop offset="0.0588" stop-color="#333333"/><stop offset="0.0613" stop-color="#3d3d3d"/><stop offset="0.0637" stop-color="#474747"/><stop offset="0.0662" stop-color="#515151"/><stop offset="0.0686" stop-color="#5c5c5c"/><stop offset="0.0711" stop-color="#676767"/><stop offset="0.0735" stop-color="#727272"/><stop offset="0.076" stop-color="#7e7e7e"/><stop offset="0.0784" stop-color="#8a8a8a"/><stop offset="0.0809" stop-color="#969696"/><stop offset="0.0833" stop-color="#a2a2a2"/><stop offset="0.0858" stop-color="#aeaeae"/><stop offset="0.0882" stop-color="#bababa"/><stop offset="0.0907" stop-color="#c6c6c6"/><stop offset="0.0931" stop-color="#d2d2d2"/><stop offset="0.0956" stop-color="#dedede"/><stop offset="0.098" stop-color="#eaeaea"/><stop offset="0.1005" stop-color="#f5f5f5"/><stop offset="0.1027" stop-color="#ffffff"/><stop offset="0.1027" stop-color="#000000"/><stop offset="0.1029" stop-color="#010101"/><stop offset="0.1054" stop-color="#0c0c0c"/><stop offset="0.1078" stop-color="#171717"/><stop offset="0.1103" stop-color="#222222"/><stop offset="0.1127" stop-color="#2d2d2d"/><stop offset="0.1152" stop-color="#393939"/><stop offset="0.1176" stop-color="#444444"/><stop offset="0.1201" stop-color="#505050"/><stop offset="0.1225" stop-color="#5b5b5b"/><stop offset="0.125" stop-color="#676767"/><stop offset="0.1275" stop-color="#737373"/><stop offset="0.1299" stop-color="#7f7f7f"/><stop offset="0.1324" stop-color="#8b8b8b"/><stop offset="0.1348" stop-color="#969696"/><stop offset="0.1373" stop-color="#a2a2a2"/><stop offset="0.1397" stop-color="#aeaeae"/><stop offset="0.1422" stop-color="#bababa"/><stop offset="0.1446" stop-color="#c6c6c6"/><stop offset="0.1471" stop-color="#d2d2d2"/><stop offset="0.1495" stop-color="#dedede"/><stop offset="0.152" stop-color="#eaeaea"/><stop offset="0.1544" stop-color="#f6f6f6"/><stop offset="0.1563" stop-color="#ffffff"/><stop offset="0.1563" stop-color="#000000"/><stop offset="0.1569" stop-color="#030303"/><stop offset="0.1593" stop-color="#0e0e0e"/><stop offset="0.1618" stop-color="#1a1a1a"/><stop offset="0.1642" stop-color="#262626"/><stop offset="0.1667" stop-color="#323232"/><stop offset="0.1691" stop-color="#3e3e3e"/><stop offset="0.1716" stop-color="#4a4a4a"/><stop offset="0.174" stop-color="#555555"/><stop offset="0.1765" stop-color="#616161"/><stop offset="0.1789" stop-color="#6d6d6d"/><stop offset="0.1814" stop-color="#797979"/><stop offset="0.1838" stop-color="#858585"/><stop offset="0.1863" stop-color="#919191"/><stop offset="0.1887" stop-color="#9d9d9d"/><stop offset="0.1912" stop-color="#a9a9a9"/><stop offset="0.1936" stop-color="#b5b5b5"/><stop offset="0.1961" stop-color="#c0c0c0"/><stop offset="0.1985" stop-color="#cccccc"/><stop offset="0.201" stop-color="#d8d8d8"/><stop offset="0.2034" stop-color="#e4e4e4"/><stop offset="0.2059" stop-color="#efefef"/><stop offset="0.2083" stop-color="#fbfbfb"/><stop offset="0.2092" stop-color="#ffffff"/><stop offset="0.2092" stop-color="#000000"/><stop offset="0.2108" stop-color="#080808"/><stop offset="0.2132" stop-color="#131313"/><stop offset="0.2157" stop-color="#1f1f1f"/><stop offset="0.2181" stop-color="#2a2a2a"/><stop offset="0.2206" stop-color="#363636"/><stop offset="0.223" stop-color="#414141"/><stop offset="0.2255" stop-color="#4c4c4c"/><stop offset="0.2279" stop-color="#585858"/><stop offset="0.2304" stop-color="#636363"/><stop offset="0.2328" stop-color="#6e6e6e"/><stop offset="0.2353" stop-color="#7a7a7a"/><stop offset="0.2377" stop-color="#858585"/><stop offset="0.2402" stop-color="#909090"/><stop offset="0.2426" stop-color="#9c9c9c"/><stop offset="0.2451" stop-color="#a7a7a7"/><stop offset="0.2475" stop-color="#b2b2b2"/><stop offset="0.25" stop-color="#bdbdbd"/><stop offset="0.2525" stop-color="#c9c9c9"/><stop offset="0.2549" stop-color="#d4d4d4"/><stop offset="0.2574" stop-color="#dfdfdf"/><stop offset="0.2598" stop-color="#ebebeb"/><stop offset="0.2623" stop-color="#f6f6f6"/><stop offset="0.2642" stop-color="#ffffff"/><stop offset="0.2642" stop-color="#000000"/><stop offset="0.2647" stop-color="#020202"/><stop offset="0.2672" stop-color="#0e0e0e"/><stop offset="0.2696" stop-color="#191919"/><stop offset="0.2721" stop-color="#242424"/><stop offset="0.2745" stop-color="#303030"/><stop offset="0.277" stop-color="#3b3b3b"/><stop offset="0.2794" stop-color="#464646"/><stop offset="0.2819" stop-color="#525252"/><stop offset="0.2843" stop-color="#5d5d5d"/><stop offset="0.2868" stop-color="#696969"/><stop offset="0.2892" stop-color="#747474"/><stop offset="0.2917" stop-color="#7f7f7f"/><stop offset="0.2941" stop-color="#8b8b8b"/><stop offset="0.2966" stop-color="#969696"/><stop offset="0.299" stop-color="#a1a1a1"/><stop offset="0.3015" stop-color="#adadad"/><stop offset="0.3039" stop-color="#b8b8b8"/><stop offset="0.3064" stop-color="#c3c3c3"/><stop offset="0.3088" stop-color="#cfcfcf"/><stop offset="0.3113" stop-color="#dadada"/><stop offset="0.3137" stop-color="#e5e5e5"/><stop offset="0.3162" stop-color="#f1f1f1"/><stop offset="0.3186" stop-color="#fcfcfc"/><stop offset="0.3193" stop-color="#ffffff"/><stop offset="0.3193" stop-color="#000000"/><stop offset="0.3211" stop-color="#080808"/><stop offset="0.3235" stop-color="#141414"/><stop offset="0.326" stop-color="#1f1f1f"/><stop offset="0.3284" stop-color="#2b2b2b"/><stop offset="0.3309" stop-color="#363636"/><stop offset="0.3333" stop-color="#424242"/><stop offset="0.3358" stop-color="#4e4e4e"/><stop offset="0.3382" stop-color="#595959"/><stop offset="0.3407" stop-color="#656565"/><stop offset="0.3431" stop-color="#717171"/><stop offset="0.3456" stop-color="#7c7c7c"/><stop offset="0.348" stop-color="#888888"/><stop offset="0.3505" stop-color="#939393"/><stop offset="0.3529" stop-color="#9f9f9f"/><stop offset="0.3554" stop-color="#aaaaaa"/><stop offset="0.3578" stop-color="#b5b5b5"/><stop offset="0.3603" stop-color="#c0c0c0"/><stop offset="0.3627" stop-color="#cbcbcb"/><stop offset="0.3652" stop-color="#d6d6d6"/><stop offset="0.3676" stop-color="#e1e1e1"/><stop offset="0.3701" stop-color="#ebebeb"/><stop offset="0.3725" stop-color="#f5f5f5"/><stop offset="0.375" stop-color="#ffffff"/><stop offset="0.375" stop-color="#000000"/><stop offset="0.375" stop-color="#000000"/><stop offset="0.3775" stop-color="#0a0a0a"/><stop offset="0.3799" stop-color="#141414"/><stop offset="0.3824" stop-color="#1d1d1d"/><stop offset="0.3848" stop-color="#272727"/><stop offset="0.3873" stop-color="#303030"/><stop offset="0.3897" stop-color="#393939"/><stop offset="0.3922" stop-color="#424242"/><stop offset="0.3946" stop-color="#4b4b4b"/><stop offset="0.3971" stop-color="#545454"/><stop offset="0.3995" stop-color="#5c5c5c"/><stop offset="0.402" stop-color="#646464"/><stop offset="0.4044" stop-color="#6c6c6c"/><stop offset="0.4069" stop-color="#747474"/><stop offset="0.4093" stop-color="#7c7c7c"/><stop offset="0.4118" stop-color="#838383"/><stop offset="0.4142" stop-color="#8a8a8a"/><stop offset="0.4167" stop-color="#919191"/><stop offset="0.4191" stop-color="#989898"/><stop offset="0.4216" stop-color="#9e9e9e"/><stop offset="0.424" stop-color="#a4a4a4"/><stop offset="0.4265" stop-color="#ababab"/><stop offset="0.4289" stop-color="#b1b1b1"/><stop offset="0.4314" stop-color="#b6b6b6"/><stop offset="0.4338" stop-color="#bcbcbc"/><stop offset="0.4363" stop-color="#c1c1c1"/><stop offset="0.4387" stop-color="#c6c6c6"/><stop offset="0.4412" stop-color="#cbcbcb"/><stop offset="0.4436" stop-color="#cfcfcf"/><stop offset="0.4461" stop-color="#d3d3d3"/><stop offset="0.4485" stop-color="#d8d8d8"/><stop offset="0.451" stop-color="#dcdcdc"/><stop offset="0.4534" stop-color="#e0e0e0"/><stop offset="0.4559" stop-color="#e4e4e4"/><stop offset="0.4583" stop-color="#e7e7e7"/><stop offset="0.4608" stop-color="#ebebeb"/><stop offset="0.4632" stop-color="#eeeeee"/><stop offset="0.4657" stop-color="#f0f0f0"/><stop offset="0.4681" stop-color="#f3f3f3"/><stop offset="0.4706" stop-color="#f5f5f5"/><stop offset="0.473" stop-color="#f7f7f7"/><stop offset="0.4755" stop-color="#f8f8f8"/><stop offset="0.4779" stop-color="#fafafa"/><stop offset="0.4804" stop-color="#fcfcfc"/><stop offset="0.4828" stop-color="#fdfdfd"/><stop offset="0.4853" stop-color="#fefefe"/><stop offset="0.4864" stop-color="#ffffff"/><stop offset="0.4864" stop-color="#000000"/><stop offset="0.4877" stop-color="#010101"/><stop offset="0.4902" stop-color="#020202"/><stop offset="0.4926" stop-color="#030303"/><stop offset="0.4951" stop-color="#030303"/><stop offset="0.4975" stop-color="#040404"/><stop offset="0.5" stop-color="#040404"/><stop offset="0.5025" stop-color="#040404"/><stop offset="0.5049" stop-color="#030303"/><stop offset="0.5074" stop-color="#030303"/><stop offset="0.5098" stop-color="#020202"/><stop offset="0.5123" stop-color="#010101"/><stop offset="0.5132" stop-color="#000000"/><stop offset="0.5132" stop-color="#ffffff"/><stop offset="0.5147" stop-color="#fefefe"/><stop offset="0.5172" stop-color="#fdfdfd"/><stop offset="0.5196" stop-color="#fbfbfb"/><stop offset="0.5221" stop-color="#f9f9f9"/><stop offset="0.5245" stop-color="#f8f8f8"/><stop offset="0.527" stop-color="#f6f6f6"/><stop offset="0.5294" stop-color="#f4f4f4"/><stop offset="0.5319" stop-color="#f2f2f2"/><stop offset="0.5343" stop-color="#efefef"/><stop offset="0.5368" stop-color="#ececec"/><stop offset="0.5392" stop-color="#e9e9e9"/><stop offset="0.5417" stop-color="#e6e6e6"/><stop offset="0.5441" stop-color="#e2e2e2"/><stop offset="0.5466" stop-color="#dedede"/><stop offset="0.549" stop-color="#d9d9d9"/><stop offset="0.5515" stop-color="#d5d5d5"/><stop offset="0.5539" stop-color="#d0d0d0"/><stop offset="0.5564" stop-color="#cbcbcb"/><stop offset="0.5588" stop-color="#c7c7c7"/><stop offset="0.5613" stop-color="#c2c2c2"/><stop offset="0.5637" stop-color="#bdbdbd"/><stop offset="0.5662" stop-color="#b7b7b7"/><stop offset="0.5686" stop-color="#b2b2b2"/><stop offset="0.5711" stop-color="#acacac"/><stop offset="0.5735" stop-color="#a6a6a6"/><stop offset="0.576" stop-color="#9f9f9f"/><stop offset="0.5784" stop-color="#989898"/><stop offset="0.5809" stop-color="#929292"/><stop offset="0.5833" stop-color="#8a8a8a"/><stop offset="0.5858" stop-color="#838383"/><stop offset="0.5882" stop-color="#7b7b7b"/><stop offset="0.5907" stop-color="#737373"/><stop offset="0.5931" stop-color="#6b6b6b"/><stop offset="0.5956" stop-color="#626262"/><stop offset="0.598" stop-color="#585858"/><stop offset="0.6005" stop-color="#4e4e4e"/><stop offset="0.6029" stop-color="#444444"/><stop offset="0.6054" stop-color="#3a3a3a"/><stop offset="0.6078" stop-color="#2f2f2f"/><stop offset="0.6103" stop-color="#242424"/><stop offset="0.6127" stop-color="#181818"/><stop offset="0.6152" stop-color="#0d0d0d"/><stop offset="0.6176" stop-color="#010101"/><stop offset="0.6179" stop-color="#000000"/><stop offset="0.6179" stop-color="#ffffff"/><stop offset="0.6201" stop-color="#f4f4f4"/><stop offset="0.6225" stop-color="#e8e8e8"/><stop offset="0.625" stop-color="#dbdbdb"/><stop offset="0.6275" stop-color="#cecece"/><stop offset="0.6299" stop-color="#c1c1c1"/><stop offset="0.6324" stop-color="#b3b3b3"/><stop offset="0.6348" stop-color="#a5a5a5"/><stop offset="0.6373" stop-color="#979797"/><stop offset="0.6397" stop-color="#898989"/><stop offset="0.6422" stop-color="#7a7a7a"/><stop offset="0.6446" stop-color="#6b6b6b"/><stop offset="0.6471" stop-color="#5b5b5b"/><stop offset="0.6495" stop-color="#4c4c4c"/><stop offset="0.652" stop-color="#3c3c3c"/><stop offset="0.6544" stop-color="#2c2c2c"/><stop offset="0.6569" stop-color="#1c1c1c"/><stop offset="0.6593" stop-color="#0b0b0b"/><stop offset="0.661" stop-color="#000000"/><stop offset="0.661" stop-color="#ffffff"/><stop offset="0.6618" stop-color="#fafafa"/><stop offset="0.6642" stop-color="#e9e9e9"/><stop offset="0.6667" stop-color="#d7d7d7"/><stop offset="0.6691" stop-color="#c5c5c5"/><stop offset="0.6716" stop-color="#b3b3b3"/><stop offset="0.674" stop-color="#a0a0a0"/><stop offset="0.6765" stop-color="#8d8d8d"/><stop offset="0.6789" stop-color="#7a7a7a"/><stop offset="0.6814" stop-color="#666666"/><stop offset="0.6838" stop-color="#525252"/><stop offset="0.6863" stop-color="#3d3d3d"/><stop offset="0.6887" stop-color="#282828"/><stop offset="0.6912" stop-color="#121212"/><stop offset="0.6931" stop-color="#000000"/><stop offset="0.6931" stop-color="#ffffff"/><stop offset="0.6936" stop-color="#fbfbfb"/><stop offset="0.6961" stop-color="#e4e4e4"/><stop offset="0.6985" stop-color="#cccccc"/><stop offset="0.701" stop-color="#b3b3b3"/><stop offset="0.7034" stop-color="#999999"/><stop offset="0.7059" stop-color="#7f7f7f"/><stop offset="0.7083" stop-color="#656565"/><stop offset="0.7108" stop-color="#4a4a4a"/><stop offset="0.7132" stop-color="#2e2e2e"/><stop offset="0.7157" stop-color="#121212"/><stop offset="0.7173" stop-color="#000000"/><stop offset="0.7173" stop-color="#ffffff"/><stop offset="0.7181" stop-color="#f5f5f5"/><stop offset="0.7206" stop-color="#d9d9d9"/><stop offset="0.723" stop-color="#bcbcbc"/><stop offset="0.7255" stop-color="#9e9e9e"/><stop offset="0.7279" stop-color="#808080"/><stop offset="0.7304" stop-color="#616161"/><stop offset="0.7328" stop-color="#414141"/><stop offset="0.7353" stop-color="#212121"/><stop offset="0.7377" stop-color="#010101"/><stop offset="0.7378" stop-color="#000000"/><stop offset="0.7378" stop-color="#ffffff"/><stop offset="0.7402" stop-color="#dedede"/><stop offset="0.7426" stop-color="#bcbcbc"/><stop offset="0.7451" stop-color="#999999"/><stop offset="0.7475" stop-color="#757575"/><stop offset="0.75" stop-color="#515151"/><stop offset="0.7525" stop-color="#2c2c2c"/><stop offset="0.7549" stop-color="#070707"/><stop offset="0.7554" stop-color="#000000"/><stop offset="0.7554" stop-color="#ffffff"/><stop offset="0.7574" stop-color="#e1e1e1"/><stop offset="0.7598" stop-color="#bbbbbb"/><stop offset="0.7623" stop-color="#959595"/><stop offset="0.7647" stop-color="#6e6e6e"/><stop offset="0.7672" stop-color="#474747"/><stop offset="0.7696" stop-color="#1f1f1f"/><stop offset="0.7715" stop-color="#000000"/><stop offset="0.7715" stop-color="#ffffff"/><stop offset="0.7721" stop-color="#f6f6f6"/><stop offset="0.7745" stop-color="#cecece"/><stop offset="0.777" stop-color="#a5a5a5"/><stop offset="0.7794" stop-color="#7c7c7c"/><stop offset="0.7819" stop-color="#525252"/><stop offset="0.7843" stop-color="#282828"/><stop offset="0.7866" stop-color="#000000"/><stop offset="0.7866" stop-color="#ffffff"/><stop offset="0.7868" stop-color="#fbfbfb"/><stop offset="0.7892" stop-color="#d0d0d0"/><stop offset="0.7917" stop-color="#a3a3a3"/><stop offset="0.7941" stop-color="#767676"/><stop offset="0.7966" stop-color="#494949"/><stop offset="0.799" stop-color="#1b1b1b"/><stop offset="0.8004" stop-color="#000000"/><stop offset="0.8004" stop-color="#ffffff"/><stop offset="0.8015" stop-color="#ebebeb"/><stop offset="0.8039" stop-color="#bcbcbc"/><stop offset="0.8064" stop-color="#8c8c8c"/><stop offset="0.8088" stop-color="#5c5c5c"/><stop offset="0.8113" stop-color="#2a2a2a"/><stop offset="0.8134" stop-color="#000000"/><stop offset="0.8134" stop-color="#ffffff"/><stop offset="0.8137" stop-color="#f8f8f8"/><stop offset="0.8162" stop-color="#c5c5c5"/><stop offset="0.8186" stop-color="#929292"/><stop offset="0.8211" stop-color="#5e5e5e"/><stop offset="0.8235" stop-color="#292929"/><stop offset="0.8254" stop-color="#000000"/><stop offset="0.8254" stop-color="#ffffff"/><stop offset="0.826" stop-color="#f2f2f2"/><stop offset="0.8284" stop-color="#bcbcbc"/><stop offset="0.8309" stop-color="#858585"/><stop offset="0.8333" stop-color="#4d4d4d"/><stop offset="0.8358" stop-color="#151515"/><stop offset="0.8367" stop-color="#000000"/><stop offset="0.8367" stop-color="#ffffff"/><stop offset="0.8382" stop-color="#dbdbdb"/><stop offset="0.8407" stop-color="#a2a2a2"/><stop offset="0.8431" stop-color="#686868"/><stop offset="0.8456" stop-color="#2d2d2d"/><stop offset="0.8474" stop-color="#000000"/><stop offset="0.8474" stop-color="#ffffff"/><stop offset="0.848" stop-color="#f1f1f1"/><stop offset="0.8505" stop-color="#b5b5b5"/><stop offset="0.8529" stop-color="#787878"/><stop offset="0.8554" stop-color="#3b3b3b"/><stop offset="0.8577" stop-color="#000000"/><stop offset="0.8577" stop-color="#ffffff"/><stop offset="0.8578" stop-color="#fcfcfc"/><stop offset="0.8603" stop-color="#bdbdbd"/><stop offset="0.8627" stop-color="#7e7e7e"/><stop offset="0.8652" stop-color="#3e3e3e"/><stop offset="0.8675" stop-color="#000000"/><stop offset="0.8675" stop-color="#ffffff"/><stop offset="0.8676" stop-color="#fcfcfc"/><stop offset="0.8701" stop-color="#bbbbbb"/><stop offset="0.8725" stop-color="#787878"/><stop offset="0.875" stop-color="#353535"/><stop offset="0.8769" stop-color="#000000"/><stop offset="0.8769" stop-color="#ffffff"/><stop offset="0.8775" stop-color="#f0f0f0"/><stop offset="0.8799" stop-color="#ababab"/><stop offset="0.8824" stop-color="#666666"/><stop offset="0.8848" stop-color="#1f1f1f"/><stop offset="0.8859" stop-color="#000000"/><stop offset="0.8859" stop-color="#ffffff"/><stop offset="0.8873" stop-color="#d7d7d7"/><stop offset="0.8897" stop-color="#8f8f8f"/><stop offset="0.8922" stop-color="#474747"/><stop offset="0.8945" stop-color="#000000"/><stop offset="0.8945" stop-color="#ffffff"/><stop offset="0.8946" stop-color="#fcfcfc"/><stop offset="0.8971" stop-color="#b2b2b2"/><stop offset="0.8995" stop-color="#686868"/><stop offset="0.902" stop-color="#1c1c1c"/><stop offset="0.9029" stop-color="#000000"/><stop offset="0.9029" stop-color="#ffffff"/><stop offset="0.9044" stop-color="#cfcfcf"/><stop offset="0.9069" stop-color="#828282"/><stop offset="0.9093" stop-color="#353535"/><stop offset="0.911" stop-color="#000000"/><stop offset="0.911" stop-color="#ffffff"/><stop offset="0.9118" stop-color="#e5e5e5"/><stop offset="0.9142" stop-color="#969696"/><stop offset="0.9167" stop-color="#454545"/><stop offset="0.9188" stop-color="#000000"/><stop offset="0.9188" stop-color="#ffffff"/><stop offset="0.9191" stop-color="#f3f3f3"/><stop offset="0.9216" stop-color="#a2a2a2"/><stop offset="0.924" stop-color="#4f4f4f"/><stop offset="0.9263" stop-color="#000000"/><stop offset="0.9263" stop-color="#ffffff"/><stop offset="0.9265" stop-color="#fafafa"/><stop offset="0.9289" stop-color="#a6a6a6"/><stop offset="0.9314" stop-color="#515151"/><stop offset="0.9337" stop-color="#000000"/><stop offset="0.9337" stop-color="#ffffff"/><stop offset="0.9338" stop-color="#fafafa"/><stop offset="0.9363" stop-color="#a4a4a4"/><stop offset="0.9387" stop-color="#4c4c4c"/><stop offset="0.9408" stop-color="#000000"/><stop offset="0.9408" stop-color="#ffffff"/><stop offset="0.9412" stop-color="#f3f3f3"/><stop offset="0.9436" stop-color="#9a9a9a"/><stop offset="0.9461" stop-color="#404040"/><stop offset="0.9478" stop-color="#000000"/><stop offset="0.9478" stop-color="#ffffff"/><stop offset="0.9485" stop-color="#e4e4e4"/><stop offset="0.951" stop-color="#888888"/><stop offset="0.9534" stop-color="#2c2c2c"/><stop offset="0.9546" stop-color="#000000"/><stop offset="0.9546" stop-color="#ffffff"/><stop offset="0.9559" stop-color="#cdcdcd"/><stop offset="0.9583" stop-color="#6e6e6e"/><stop offset="0.9608" stop-color="#0f0f0f"/><stop offset="0.9612" stop-color="#000000"/><stop offset="0.9612" stop-color="#ffffff"/><stop offset="0.9632" stop-color="#aeaeae"/><stop offset="0.9657" stop-color="#4d4d4d"/><stop offset="0.9676" stop-color="#000000"/><stop offset="0.9676" stop-color="#ffffff"/><stop offset="0.9681" stop-color="#eaeaea"/><stop offset="0.9706" stop-color="#878787"/><stop offset="0.973" stop-color="#242424"/><stop offset="0.9739" stop-color="#000000"/><stop offset="0.9739" stop-color="#ffffff"/><stop offset="0.9755" stop-color="#bfbfbf"/><stop offset="0.9779" stop-color="#5a5a5a"/><stop offset="0.9801" stop-color="#000000"/><stop offset="0.9801" stop-color="#ffffff"/><stop offset="0.9804" stop-color="#f3f3f3"/><stop offset="0.9828" stop-color="#8b8b8b"/><stop offset="0.9853" stop-color="#232323"/><stop offset="0.9861" stop-color="#000000"/><stop offset="0.9861" stop-color="#ffffff"/><stop offset="0.9877" stop-color="#b9b9b9"/><stop offset="0.9902" stop-color="#4f4f4f"/><stop offset="0.992" stop-color="#000000"/><stop offset="0.992" stop-color="#ffffff"/><stop offset="0.9926" stop-color="#e2e2e2"/><stop offset="0.9951" stop-color="#767676"/><stop offset="0.9975" stop-color="#0a0a0a"/><stop offset="0.9978" stop-color="#000000"/><stop offset="0.9978" stop-color="#ffffff"/><stop offset="1" stop-color="#9b9b9b"/></linearGradient>
<linearGradient id="gu0" href="#gu" gradientTransform="translate(-0.333 0)"/><linearGradient id="gv0" href="#gv" gradientTransform="translate(0 -0.333)"/>
<linearGradient id="gu1" href="#gu" gradientTransform="translate(-0.333 0)"/><linearGradient id="gv1" href="#gv" gradientTransform="translate(0 0.000)"/>
<linearGradient id="gu2" href="#gu" gradientTransform="translate(-0.333 0)"/><linearGradient id="gv2" href="#gv" gradientTransform="translate(0 0.333)"/>
<linearGradient id="gu3" href="#gu" gradientTransform="translate(0.000 0)"/><linearGradient id="gv3" href="#gv" gradientTransform="translate(0 -0.333)"/>
<linearGradient id="gu4" href="#gu" gradientTransform="translate(0.000 0)"/><linearGradient id="gv4" href="#gv" gradientTransform="translate(0 0.000)"/>
<linearGradient id="gu5" href="#gu" gradientTransform="translate(0.000 0)"/><linearGradient id="gv5" href="#gv" gradientTransform="translate(0 0.333)"/>
<linearGradient id="gu6" href="#gu" gradientTransform="translate(0.333 0)"/><linearGradient id="gv6" href="#gv" gradientTransform="translate(0 -0.333)"/>
<linearGradient id="gu7" href="#gu" gradientTransform="translate(0.333 0)"/><linearGradient id="gv7" href="#gv" gradientTransform="translate(0 0.000)"/>
<linearGradient id="gu8" href="#gu" gradientTransform="translate(0.333 0)"/><linearGradient id="gv8" href="#gv" gradientTransform="translate(0 0.333)"/>
<clipPath id="cpc"><rect x="0" y="0" width="135.10" height="136.20"/></clipPath>
<filter id="soft" color-interpolation-filters="sRGB" filterUnits="userSpaceOnUse" x="-6" y="-6" width="147.1" height="148.2"><feGaussianBlur stdDeviation="0.7"/></filter>
<linearGradient id="mh" gradientUnits="userSpaceOnUse" x1="0" y1="0" x2="135.1" y2="0"><stop offset="0.000" stop-color="#778a7f" stop-opacity="0.95"/><stop offset="0.069" stop-color="#778a7f" stop-opacity="0.93"/><stop offset="0.098" stop-color="#778a7f" stop-opacity="0.75"/><stop offset="0.150" stop-color="#778a7f" stop-opacity="0.35"/><stop offset="0.209" stop-color="#778a7f" stop-opacity="0.00"/></linearGradient>
<linearGradient id="mv" gradientUnits="userSpaceOnUse" x1="0" y1="136.2" x2="0" y2="0"><stop offset="0.000" stop-color="#778a7f" stop-opacity="0.95"/><stop offset="0.074" stop-color="#778a7f" stop-opacity="0.93"/><stop offset="0.104" stop-color="#778a7f" stop-opacity="0.75"/><stop offset="0.155" stop-color="#778a7f" stop-opacity="0.35"/><stop offset="0.214" stop-color="#778a7f" stop-opacity="0.00"/></linearGradient>
<filter id="jmd" color-interpolation-filters="sRGB" x="0" y="0" width="1" height="1"><feComponentTransfer><feFuncR type="discrete" tableValues="0 0 0 0 0 0 0 0 0 0 0 0 0 0 0 0 0 0 0 0 0 0 0 0 0 0 0 0 0 0 0 0 0 0 0 0 0 0 0 0 0 0 0 0 0 0 0 0 0 0 0 0 0 0 0 0 0 0 0 0 0 0 0 0.052 0.104 0.155 0.207 0.259 0.31 0.362 0.414 0.437 0.456 0.475 0.494 0.513 0.532 0.551 0.57 0.589 0.608 0.627 0.646 0.665 0.684 0.703 0.722 0.741 0.76 0.779 0.798 0.817 0.836 0.855 0.874 0.893 0.912 0.931 0.95 0.969 0.988 1 1 1 1 1 1 1 1 1 1 1 1 1 1 1 1 1 1 1 1 1 0.96 0.876 0.793 0.709 0.625 0.542 0 0 0 0 0 0 0 0 0 0 0 0 0 0 0 0 0 0 0 0 0 0 0 0 0 0 0 0 0 0 0 0 0 0 0 0 0 0 0 0 0 0 0 0 0 0 0 0 0 0 0 0 0 0 0 0 0 0 0 0 0 0 0.026 0.078 0.129 0.181 0.233 0.284 0.336 0.388 0.427 0.446 0.465 0.484 0.503 0.522 0.541 0.56 0.579 0.598 0.617 0.636 0.655 0.674 0.693 0.712 0.731 0.75 0.769 0.788 0.807 0.826 0.845 0.864 0.883 0.902 0.921 0.94 0.96 0.979 0.998 1 1 1 1 1 1 1 1 1 1 1 1 1 1 1 1 1 1 1 1 1 0.918 0.835 0.751 0.667 0.584 0"/><feFuncG type="discrete" tableValues="0 0 0 0 0 0 0 0 0 0 0 0 0 0 0 0 0 0 0 0 0 0 0 0 0 0 0 0 0 0.011 0.026 0.041 0.056 0.07 0.085 0.1 0.115 0.13 0.145 0.16 0.174 0.189 0.204 0.219 0.234 0.249 0.264 0.278 0.293 0.328 0.38 0.432 0.483 0.535 0.587 0.638 0.69 0.742 0.793 0.845 0.897 0.948 1 1 1 1 1 1 1 1 1 1 1 1 1 1 1 1 1 1 1 1 1 1 1 1 1 1 1 1 1 1 1 1 1 1 1 1 1 1 1 0.993 0.974 0.955 0.936 0.917 0.898 0.879 0.86 0.841 0.822 0.803 0.784 0.713 0.629 0.546 0.462 0.378 0.295 0.211 0.127 0.044 0 0 0 0 0 0 0 0 0 0 0 0 0 0 0 0 0 0 0 0 0 0 0 0 0 0 0 0 0 0 0 0 0 0 0.004 0.018 0.033 0.048 0.063 0.078 0.093 0.108 0.122 0.137 0.152 0.167 0.182 0.197 0.212 0.226 0.241 0.256 0.271 0.286 0.303 0.354 0.406 0.458 0.509 0.561 0.613 0.664 0.716 0.768 0.819 0.871 0.923 0.974 1 1 1 1 1 1 1 1 1 1 1 1 1 1 1 1 1 1 1 1 1 1 1 1 1 1 1 1 1 1 1 1 1 1 1 1 1 1 1 0.983 0.964 0.945 0.926 0.907 0.888 0.869 0.85 0.831 0.812 0.793 0.755 0.671 0.588 0.504 0.42 0.337 0.253 0.169 0.086 0.002 0 0 0 0 0 0"/><feFuncB type="discrete" tableValues="0.58 0.595 0.61 0.625 0.639 0.654 0.669 0.684 0.699 0.714 0.729 0.743 0.758 0.773 0.788 0.803 0.818 0.833 0.847 0.862 0.877 0.892 0.907 0.922 0.937 0.952 0.966 0.981 0.996 1 1 1 1 1 1 1 1 1 1 1 1 1 1 1 1 1 1 1 1 1 1 1 1 1 1 1 1 1 1 1 1 1 1 0.948 0.896 0.845 0.793 0.741 0.69 0.638 0.586 0.563 0.544 0.525 0.506 0.487 0.468 0.449 0.43 0.411 0.392 0.373 0.354 0.335 0.316 0.297 0.278 0.259 0.24 0.221 0.202 0.183 0.164 0.145 0.126 0.107 0.088 0.069 0.05 0.031 0.012 0 0 0 0 0 0 0 0 0 0 0 0 0 0 0 0 0 0 0 0 0 0 0 0 0 0 0 0.587 0.602 0.617 0.632 0.647 0.662 0.677 0.691 0.706 0.721 0.736 0.751 0.766 0.781 0.795 0.81 0.825 0.84 0.855 0.87 0.885 0.9 0.914 0.929 0.944 0.959 0.974 0.989 1 1 1 1 1 1 1 1 1 1 1 1 1 1 1 1 1 1 1 1 1 1 1 1 1 1 1 1 1 1 1 1 1 1 0.974 0.922 0.871 0.819 0.767 0.716 0.664 0.612 0.573 0.554 0.535 0.516 0.497 0.478 0.459 0.44 0.421 0.402 0.383 0.364 0.345 0.326 0.307 0.288 0.269 0.25 0.231 0.212 0.193 0.174 0.155 0.136 0.117 0.098 0.079 0.06 0.04 0.021 0.002 0 0 0 0 0 0 0 0 0 0 0 0 0 0 0 0 0 0 0 0 0 0 0 0 0 0 0.58"/></feComponentTransfer></filter></defs>
<rect x="33.5" y="41.5" width="116.9" height="336.2" fill="#178af3"/>
<g fill="#fbab1e" stroke="#8a5a1e" stroke-width="0.7"><rect x="43.00" y="51.60" width="5.40" height="5.40"/><rect x="54.10" y="51.70" width="5.20" height="5.20"/><rect x="65.05" y="51.65" width="5.30" height="5.30"/><rect x="75.95" y="51.55" width="5.50" height="5.50"/><rect x="86.50" y="51.10" width="6.40" height="6.40"/><rect x="97.50" y="51.10" width="6.40" height="6.40"/><rect x="108.70" y="51.30" width="6.00" height="6.00"/><rect x="119.70" y="51.30" width="6.00" height="6.00"/><rect x="130.70" y="51.30" width="6.00" height="6.00"/><rect x="143.45" y="53.05" width="2.50" height="2.50"/><rect x="43.10" y="62.67" width="5.20" height="5.20"/><rect x="54.05" y="62.62" width="5.30" height="5.30"/><rect x="64.95" y="62.52" width="5.50" height="5.50"/><rect x="75.50" y="62.07" width="6.40" height="6.40"/><rect x="86.50" y="62.07" width="6.40" height="6.40"/><rect x="97.70" y="62.27" width="6.00" height="6.00"/><rect x="108.70" y="62.27" width="6.00" height="6.00"/><rect x="119.70" y="62.27" width="6.00" height="6.00"/><rect x="132.45" y="64.02" width="2.50" height="2.50"/><rect x="143.45" y="64.02" width="2.50" height="2.50"/><rect x="43.05" y="73.59" width="5.30" height="5.30"/><rect x="53.95" y="73.49" width="5.50" height="5.50"/><rect x="64.50" y="73.04" width="6.40" height="6.40"/><rect x="75.50" y="73.04" width="6.40" height="6.40"/><rect x="86.70" y="73.24" width="6.00" height="6.00"/><rect x="97.70" y="73.24" width="6.00" height="6.00"/><rect x="108.70" y="73.24" width="6.00" height="6.00"/><rect x="121.45" y="74.99" width="2.50" height="2.50"/><rect x="132.45" y="74.99" width="2.50" height="2.50"/><rect x="143.45" y="74.99" width="2.50" height="2.50"/><rect x="42.95" y="84.46" width="5.50" height="5.50"/><rect x="53.50" y="84.01" width="6.40" height="6.40"/><rect x="64.50" y="84.01" width="6.40" height="6.40"/><rect x="75.70" y="84.21" width="6.00" height="6.00"/><rect x="86.70" y="84.21" width="6.00" height="6.00"/><rect x="97.70" y="84.21" width="6.00" height="6.00"/><rect x="110.45" y="85.96" width="2.50" height="2.50"/><rect x="121.45" y="85.96" width="2.50" height="2.50"/><rect x="132.45" y="85.96" width="2.50" height="2.50"/><rect x="143.40" y="85.91" width="2.60" height="2.60"/><rect x="42.50" y="94.98" width="6.40" height="6.40"/><rect x="53.50" y="94.98" width="6.40" height="6.40"/><rect x="64.70" y="95.18" width="6.00" height="6.00"/><rect x="75.70" y="95.18" width="6.00" height="6.00"/><rect x="86.70" y="95.18" width="6.00" height="6.00"/><rect x="99.45" y="96.93" width="2.50" height="2.50"/><rect x="110.45" y="96.93" width="2.50" height="2.50"/><rect x="121.45" y="96.93" width="2.50" height="2.50"/><rect x="132.40" y="96.88" width="2.60" height="2.60"/><rect x="143.25" y="96.73" width="2.90" height="2.90"/><rect x="42.50" y="105.95" width="6.40" height="6.40"/><rect x="53.70" y="106.15" width="6.00" height="6.00"/><rect x="64.70" y="106.15" width="6.00" height="6.00"/><rect x="75.70" y="106.15" width="6.00" height="6.00"/><rect x="88.45" y="107.90" width="2.50" height="2.50"/><rect x="99.45" y="107.90" width="2.50" height="2.50"/><rect x="110.45" y="107.90" width="2.50" height="2.50"/><rect x="121.40" y="107.85" width="2.60" height="2.60"/><rect x="132.25" y="107.70" width="2.90" height="2.90"/><rect x="143.15" y="107.60" width="3.10" height="3.10"/><rect x="42.70" y="117.12" width="6.00" height="6.00"/><rect x="53.70" y="117.12" width="6.00" height="6.00"/><rect x="64.70" y="117.12" width="6.00" height="6.00"/><rect x="77.45" y="118.87" width="2.50" height="2.50"/><rect x="88.45" y="118.87" width="2.50" height="2.50"/><rect x="99.45" y="118.87" width="2.50" height="2.50"/><rect x="110.40" y="118.82" width="2.60" height="2.60"/><rect x="121.25" y="118.67" width="2.90" height="2.90"/><rect x="132.15" y="118.57" width="3.10" height="3.10"/><rect x="142.95" y="118.37" width="3.50" height="3.50"/><rect x="42.70" y="128.09" width="6.00" height="6.00"/><rect x="53.70" y="128.09" width="6.00" height="6.00"/><rect x="66.45" y="129.84" width="2.50" height="2.50"/><rect x="77.45" y="129.84" width="2.50" height="2.50"/><rect x="88.45" y="129.84" width="2.50" height="2.50"/><rect x="99.40" y="129.79" width="2.60" height="2.60"/><rect x="110.25" y="129.64" width="2.90" height="2.90"/><rect x="121.15" y="129.54" width="3.10" height="3.10"/><rect x="131.95" y="129.34" width="3.50" height="3.50"/><rect x="142.70" y="129.09" width="4.00" height="4.00"/><rect x="42.70" y="139.06" width="6.00" height="6.00"/><rect x="55.45" y="140.81" width="2.50" height="2.50"/><rect x="66.45" y="140.81" width="2.50" height="2.50"/><rect x="77.45" y="140.81" width="2.50" height="2.50"/><rect x="88.40" y="140.76" width="2.60" height="2.60"/><rect x="99.25" y="140.61" width="2.90" height="2.90"/><rect x="110.15" y="140.51" width="3.10" height="3.10"/><rect x="120.95" y="140.31" width="3.50" height="3.50"/><rect x="131.70" y="140.06" width="4.00" height="4.00"/><rect x="142.45" y="139.81" width="4.50" height="4.50"/><rect x="44.45" y="151.78" width="2.50" height="2.50"/><rect x="55.45" y="151.78" width="2.50" height="2.50"/><rect x="66.45" y="151.78" width="2.50" height="2.50"/><rect x="77.40" y="151.73" width="2.60" height="2.60"/><rect x="88.25" y="151.58" width="2.90" height="2.90"/><rect x="99.15" y="151.48" width="3.10" height="3.10"/><rect x="109.95" y="151.28" width="3.50" height="3.50"/><rect x="120.70" y="151.03" width="4.00" height="4.00"/><rect x="131.45" y="150.78" width="4.50" height="4.50"/><rect x="142.20" y="150.53" width="5.00" height="5.00"/><rect x="44.45" y="162.75" width="2.50" height="2.50"/><rect x="55.45" y="162.75" width="2.50" height="2.50"/><rect x="66.40" y="162.70" width="2.60" height="2.60"/><rect x="77.25" y="162.55" width="2.90" height="2.90"/><rect x="88.15" y="162.45" width="3.10" height="3.10"/><rect x="98.95" y="162.25" width="3.50" height="3.50"/><rect x="109.70" y="162.00" width="4.00" height="4.00"/><rect x="120.45" y="161.75" width="4.50" height="4.50"/><rect x="131.20" y="161.50" width="5.00" height="5.00"/><rect x="142.15" y="161.45" width="5.10" height="5.10"/><rect x="44.45" y="173.72" width="2.50" height="2.50"/><rect x="55.40" y="173.67" width="2.60" height="2.60"/><rect x="66.25" y="173.52" width="2.90" height="2.90"/><rect x="77.15" y="173.42" width="3.10" height="3.10"/><rect x="87.95" y="173.22" width="3.50" height="3.50"/><rect x="98.70" y="172.97" width="4.00" height="4.00"/><rect x="109.45" y="172.72" width="4.50" height="4.50"/><rect x="120.20" y="172.47" width="5.00" height="5.00"/><rect x="131.15" y="172.42" width="5.10" height="5.10"/><rect x="142.00" y="172.27" width="5.40" height="5.40"/><rect x="44.40" y="184.64" width="2.60" height="2.60"/><rect x="55.25" y="184.49" width="2.90" height="2.90"/><rect x="66.15" y="184.39" width="3.10" height="3.10"/><rect x="76.95" y="184.19" width="3.50" height="3.50"/><rect x="87.70" y="183.94" width="4.00" height="4.00"/><rect x="98.45" y="183.69" width="4.50" height="4.50"/><rect x="109.20" y="183.44" width="5.00" height="5.00"/><rect x="120.15" y="183.39" width="5.10" height="5.10"/><rect x="131.00" y="183.24" width="5.40" height="5.40"/><rect x="141.95" y="183.19" width="5.50" height="5.50"/><rect x="44.25" y="195.46" width="2.90" height="2.90"/><rect x="55.15" y="195.36" width="3.10" height="3.10"/><rect x="65.95" y="195.16" width="3.50" height="3.50"/><rect x="76.70" y="194.91" width="4.00" height="4.00"/><rect x="87.45" y="194.66" width="4.50" height="4.50"/><rect x="98.20" y="194.41" width="5.00" height="5.00"/><rect x="109.15" y="194.36" width="5.10" height="5.10"/><rect x="120.00" y="194.21" width="5.40" height="5.40"/><rect x="130.95" y="194.16" width="5.50" height="5.50"/><rect x="141.95" y="194.16" width="5.50" height="5.50"/><rect x="44.15" y="206.33" width="3.10" height="3.10"/><rect x="54.95" y="206.13" width="3.50" height="3.50"/><rect x="65.70" y="205.88" width="4.00" height="4.00"/><rect x="76.45" y="205.63" width="4.50" height="4.50"/><rect x="87.20" y="205.38" width="5.00" height="5.00"/><rect x="98.15" y="205.33" width="5.10" height="5.10"/><rect x="109.00" y="205.18" width="5.40" height="5.40"/><rect x="119.95" y="205.13" width="5.50" height="5.50"/><rect x="130.95" y="205.13" width="5.50" height="5.50"/><rect x="141.90" y="205.08" width="5.60" height="5.60"/><rect x="43.95" y="217.10" width="3.50" height="3.50"/><rect x="54.70" y="216.85" width="4.00" height="4.00"/><rect x="65.45" y="216.60" width="4.50" height="4.50"/><rect x="76.20" y="216.35" width="5.00" height="5.00"/><rect x="87.15" y="216.30" width="5.10" height="5.10"/><rect x="98.00" y="216.15" width="5.40" height="5.40"/><rect x="108.95" y="216.10" width="5.50" height="5.50"/><rect x="119.95" y="216.10" width="5.50" height="5.50"/><rect x="130.90" y="216.05" width="5.60" height="5.60"/><rect x="141.70" y="215.85" width="6.00" height="6.00"/><rect x="43.70" y="227.82" width="4.00" height="4.00"/><rect x="54.45" y="227.57" width="4.50" height="4.50"/><rect x="65.20" y="227.32" width="5.00" height="5.00"/><rect x="76.15" y="227.27" width="5.10" height="5.10"/><rect x="87.00" y="227.12" width="5.40" height="5.40"/><rect x="97.95" y="227.07" width="5.50" height="5.50"/><rect x="108.95" y="227.07" width="5.50" height="5.50"/><rect x="119.90" y="227.02" width="5.60" height="5.60"/><rect x="130.70" y="226.82" width="6.00" height="6.00"/><rect x="141.45" y="226.57" width="6.50" height="6.50"/><rect x="43.45" y="238.54" width="4.50" height="4.50"/><rect x="54.20" y="238.29" width="5.00" height="5.00"/><rect x="65.15" y="238.24" width="5.10" height="5.10"/><rect x="76.00" y="238.09" width="5.40" height="5.40"/><rect x="86.95" y="238.04" width="5.50" height="5.50"/><rect x="97.95" y="238.04" width="5.50" height="5.50"/><rect x="108.90" y="237.99" width="5.60" height="5.60"/><rect x="119.70" y="237.79" width="6.00" height="6.00"/><rect x="130.45" y="237.54" width="6.50" height="6.50"/><rect x="141.25" y="237.34" width="6.90" height="6.90"/><rect x="43.20" y="249.26" width="5.00" height="5.00"/><rect x="54.15" y="249.21" width="5.10" height="5.10"/><rect x="65.00" y="249.06" width="5.40" height="5.40"/><rect x="75.95" y="249.01" width="5.50" height="5.50"/><rect x="86.95" y="249.01" width="5.50" height="5.50"/><rect x="97.90" y="248.96" width="5.60" height="5.60"/><rect x="108.70" y="248.76" width="6.00" height="6.00"/><rect x="119.45" y="248.51" width="6.50" height="6.50"/><rect x="130.25" y="248.31" width="6.90" height="6.90"/><rect x="141.20" y="248.26" width="7.00" height="7.00"/><rect x="43.15" y="260.18" width="5.10" height="5.10"/><rect x="54.00" y="260.03" width="5.40" height="5.40"/><rect x="64.95" y="259.98" width="5.50" height="5.50"/><rect x="75.95" y="259.98" width="5.50" height="5.50"/><rect x="86.90" y="259.93" width="5.60" height="5.60"/><rect x="97.70" y="259.73" width="6.00" height="6.00"/><rect x="108.45" y="259.48" width="6.50" height="6.50"/><rect x="119.25" y="259.28" width="6.90" height="6.90"/><rect x="130.20" y="259.23" width="7.00" height="7.00"/><rect x="143.45" y="261.48" width="2.50" height="2.50"/><rect x="43.00" y="271.00" width="5.40" height="5.40"/><rect x="53.95" y="270.95" width="5.50" height="5.50"/><rect x="64.95" y="270.95" width="5.50" height="5.50"/><rect x="75.90" y="270.90" width="5.60" height="5.60"/><rect x="86.70" y="270.70" width="6.00" height="6.00"/><rect x="97.45" y="270.45" width="6.50" height="6.50"/><rect x="108.25" y="270.25" width="6.90" height="6.90"/><rect x="119.20" y="270.20" width="7.00" height="7.00"/><rect x="132.45" y="272.45" width="2.50" height="2.50"/><rect x="143.45" y="272.45" width="2.50" height="2.50"/><rect x="42.95" y="281.92" width="5.50" height="5.50"/><rect x="53.95" y="281.92" width="5.50" height="5.50"/><rect x="64.90" y="281.87" width="5.60" height="5.60"/><rect x="75.70" y="281.67" width="6.00" height="6.00"/><rect x="86.45" y="281.42" width="6.50" height="6.50"/><rect x="97.25" y="281.22" width="6.90" height="6.90"/><rect x="108.20" y="281.17" width="7.00" height="7.00"/><rect x="121.45" y="283.42" width="2.50" height="2.50"/><rect x="132.45" y="283.42" width="2.50" height="2.50"/><rect x="143.45" y="283.42" width="2.50" height="2.50"/><rect x="42.95" y="292.89" width="5.50" height="5.50"/><rect x="53.90" y="292.84" width="5.60" height="5.60"/><rect x="64.70" y="292.64" width="6.00" height="6.00"/><rect x="75.45" y="292.39" width="6.50" height="6.50"/><rect x="86.25" y="292.19" width="6.90" height="6.90"/><rect x="97.20" y="292.14" width="7.00" height="7.00"/><rect x="110.45" y="294.39" width="2.50" height="2.50"/><rect x="121.45" y="294.39" width="2.50" height="2.50"/><rect x="132.45" y="294.39" width="2.50" height="2.50"/><rect x="143.40" y="294.34" width="2.60" height="2.60"/><rect x="42.95" y="303.86" width="5.50" height="5.50"/><rect x="53.90" y="303.81" width="5.60" height="5.60"/><rect x="64.70" y="303.61" width="6.00" height="6.00"/><rect x="75.45" y="303.36" width="6.50" height="6.50"/><rect x="86.25" y="303.16" width="6.90" height="6.90"/><rect x="97.20" y="303.11" width="7.00" height="7.00"/><rect x="110.45" y="305.36" width="2.50" height="2.50"/><rect x="121.45" y="305.36" width="2.50" height="2.50"/><rect x="132.45" y="305.36" width="2.50" height="2.50"/><rect x="143.40" y="305.31" width="2.60" height="2.60"/><rect x="42.90" y="314.78" width="5.60" height="5.60"/><rect x="53.70" y="314.58" width="6.00" height="6.00"/><rect x="64.45" y="314.33" width="6.50" height="6.50"/><rect x="75.25" y="314.13" width="6.90" height="6.90"/><rect x="86.20" y="314.08" width="7.00" height="7.00"/><rect x="99.45" y="316.33" width="2.50" height="2.50"/><rect x="110.45" y="316.33" width="2.50" height="2.50"/><rect x="121.45" y="316.33" width="2.50" height="2.50"/><rect x="132.40" y="316.28" width="2.60" height="2.60"/><rect x="143.25" y="316.13" width="2.90" height="2.90"/><rect x="42.70" y="325.55" width="6.00" height="6.00"/><rect x="53.45" y="325.30" width="6.50" height="6.50"/><rect x="64.25" y="325.10" width="6.90" height="6.90"/><rect x="75.20" y="325.05" width="7.00" height="7.00"/><rect x="88.45" y="327.30" width="2.50" height="2.50"/><rect x="99.45" y="327.30" width="2.50" height="2.50"/><rect x="110.45" y="327.30" width="2.50" height="2.50"/><rect x="121.40" y="327.25" width="2.60" height="2.60"/><rect x="132.25" y="327.10" width="2.90" height="2.90"/><rect x="143.15" y="327.00" width="3.10" height="3.10"/><rect x="42.45" y="336.27" width="6.50" height="6.50"/><rect x="53.25" y="336.07" width="6.90" height="6.90"/><rect x="64.20" y="336.02" width="7.00" height="7.00"/><rect x="77.45" y="338.27" width="2.50" height="2.50"/><rect x="88.45" y="338.27" width="2.50" height="2.50"/><rect x="99.45" y="338.27" width="2.50" height="2.50"/><rect x="110.40" y="338.22" width="2.60" height="2.60"/><rect x="121.25" y="338.07" width="2.90" height="2.90"/><rect x="132.15" y="337.97" width="3.10" height="3.10"/><rect x="142.95" y="337.77" width="3.50" height="3.50"/><rect x="42.25" y="347.04" width="6.90" height="6.90"/><rect x="53.20" y="346.99" width="7.00" height="7.00"/><rect x="66.45" y="349.24" width="2.50" height="2.50"/><rect x="77.45" y="349.24" width="2.50" height="2.50"/><rect x="88.45" y="349.24" width="2.50" height="2.50"/><rect x="99.40" y="349.19" width="2.60" height="2.60"/><rect x="110.25" y="349.04" width="2.90" height="2.90"/><rect x="121.15" y="348.94" width="3.10" height="3.10"/><rect x="131.95" y="348.74" width="3.50" height="3.50"/><rect x="142.70" y="348.49" width="4.00" height="4.00"/><rect x="42.20" y="357.96" width="7.00" height="7.00"/><rect x="55.45" y="360.21" width="2.50" height="2.50"/><rect x="66.45" y="360.21" width="2.50" height="2.50"/><rect x="77.45" y="360.21" width="2.50" height="2.50"/><rect x="88.40" y="360.16" width="2.60" height="2.60"/><rect x="99.25" y="360.01" width="2.90" height="2.90"/><rect x="110.15" y="359.91" width="3.10" height="3.10"/><rect x="120.95" y="359.71" width="3.50" height="3.50"/><rect x="131.70" y="359.46" width="4.00" height="4.00"/><rect x="142.45" y="359.21" width="4.50" height="4.50"/><rect x="44.45" y="371.18" width="2.50" height="2.50"/><rect x="55.45" y="371.18" width="2.50" height="2.50"/><rect x="66.45" y="371.18" width="2.50" height="2.50"/><rect x="77.40" y="371.13" width="2.60" height="2.60"/><rect x="88.25" y="370.98" width="2.90" height="2.90"/><rect x="99.15" y="370.88" width="3.10" height="3.10"/><rect x="109.95" y="370.68" width="3.50" height="3.50"/><rect x="120.70" y="370.43" width="4.00" height="4.00"/><rect x="131.45" y="370.18" width="4.50" height="4.50"/><rect x="142.20" y="369.93" width="5.00" height="5.00"/></g>
<rect x="39.9" y="212.8" width="110.8" height="10.5" fill="none" stroke="#dc2a35" stroke-width="1.35"/>
<path d="M40.5 213L195.3 39M151.4 218L196 193.6" fill="none" stroke="#dc2a35" stroke-width="1.1" stroke-dasharray="3.6 2.2"/>
<g fill="#111"><circle cx="157.2" cy="199.4" r="1.2"/><circle cx="161.2" cy="199.4" r="1.2"/><circle cx="165.2" cy="199.4" r="1.2"/><circle cx="94.1" cy="383.6" r="1.1"/><circle cx="94.1" cy="388.2" r="1.1"/><circle cx="94.1" cy="392.8" r="1.1"/></g>
<path d="M23 27.0H64.3L62.4 22.4L77.6 29.5L62.4 36.8L64.3 32.2H23Z" fill="#f25555" opacity=".75" filter="url(#glow)"/><path d="M23 27.0H64.3L62.4 22.4L77.6 29.5L62.4 36.8L64.3 32.2H23Z" fill="#f25555"/>
<path d="M19.7 31V71.3L15.3 69.6L22.3 82.2L29.3 69.6L24.9 71.3V31Z" fill="#2a7bd0" opacity=".75" filter="url(#glow)"/><path d="M19.7 31V71.3L15.3 69.6L22.3 82.2L29.3 69.6L24.9 71.3V31Z" fill="#2a7bd0"/>
<circle cx="22.4" cy="30" r="4.8" fill="#7caf3d"/><circle cx="22.4" cy="30" r="2.7" fill="#fff"/><circle cx="22.4" cy="30" r="1.1" fill="#7caf3d"/>
<text x="7.6" y="34.7" font-family="Liberation Sans, sans-serif" font-size="13" font-weight="bold" fill="#7caf3d">Z</text>
<text x="79.9" y="32.8" font-family="Liberation Sans, sans-serif" font-size="12.4" font-weight="bold" fill="#dc3545">Y</text>
<text x="18.2" y="98.2" font-family="Liberation Sans, sans-serif" font-size="12.2" font-weight="bold" fill="#2272bd">X</text>
<text x="4.8" y="15.2" font-family="Liberation Sans, sans-serif" font-size="12.6" font-weight="bold" letter-spacing=".4" fill="#000">(a)</text>
<text x="177.2" y="15.2" font-family="Liberation Sans, sans-serif" font-size="12.6" font-weight="bold" letter-spacing=".4" fill="#000">(b)</text>
<text x="175.6" y="232.3" font-family="Liberation Sans, sans-serif" font-size="12.6" font-weight="bold" letter-spacing=".4" fill="#000">(c)</text>
<text x="360.4" y="232.3" font-family="Liberation Sans, sans-serif" font-size="12.6" font-weight="bold" letter-spacing=".4" fill="#000">(d)</text>
<g clip-path="url(#cpt)"><g filter="url(#jht)"><rect x="214.4" y="17.1" width="288.5" height="71.4" fill="#161616"/><ellipse cx="360.0" cy="52.0" rx="140.00" ry="9.00" fill="#1a1a1a"/><ellipse cx="300.0" cy="70.0" rx="50.00" ry="5.00" fill="#0f0f0f"/><ellipse cx="430.0" cy="36.0" rx="60.00" ry="5.00" fill="#0f0f0f"/><rect x="238.1" y="33.5" width="5.8" height="44.0" rx="2.3" fill="#333333"/><ellipse cx="241.0" cy="39.5" rx="2.70" ry="3.80" fill="#424242"/><ellipse cx="241.0" cy="39.5" rx="1.67" ry="2.51" fill="#525252"/><ellipse cx="241.0" cy="56.7" rx="2.90" ry="4.40" fill="#494949"/><ellipse cx="241.0" cy="56.7" rx="1.80" ry="2.90" fill="#5e5e5e"/><ellipse cx="241.0" cy="73.0" rx="2.70" ry="3.80" fill="#444444"/><ellipse cx="241.0" cy="73.0" rx="1.67" ry="2.51" fill="#545454"/><rect x="263.6" y="33.5" width="7.2" height="44.0" rx="2.9" fill="#3b3b3b"/><ellipse cx="267.2" cy="41.2" rx="3.20" ry="4.40" fill="#4e4e4e"/><ellipse cx="267.2" cy="41.2" rx="1.98" ry="2.90" fill="#616161"/><ellipse cx="267.2" cy="55.9" rx="3.30" ry="4.80" fill="#575757"/><ellipse cx="267.2" cy="55.9" rx="2.05" ry="3.17" fill="#737373"/><ellipse cx="267.2" cy="69.0" rx="3.20" ry="4.40" fill="#4e4e4e"/><ellipse cx="267.2" cy="69.0" rx="1.98" ry="2.90" fill="#616161"/><rect x="289.2" y="33.5" width="8.8" height="44.0" rx="3.5" fill="#575757"/><ellipse cx="293.6" cy="40.4" rx="3.60" ry="4.80" fill="#737373"/><ellipse cx="293.6" cy="40.4" rx="2.50" ry="3.30" fill="#8f8f8f"/><ellipse cx="293.6" cy="57.5" rx="4.00" ry="8.50" fill="#808080"/><ellipse cx="293.6" cy="57.5" rx="3.20" ry="6.50" fill="#9e9e9e"/><ellipse cx="293.6" cy="57.5" rx="2.00" ry="4.20" fill="#bdbdbd"/><ellipse cx="293.6" cy="70.6" rx="3.50" ry="4.20" fill="#6b6b6b"/><ellipse cx="293.6" cy="70.6" rx="2.40" ry="3.00" fill="#808080"/><rect x="313.9" y="35.0" width="11.2" height="43.0" rx="4.5" fill="#5c5c5c"/><ellipse cx="319.5" cy="59.5" rx="4.50" ry="18.00" fill="#808080"/><ellipse cx="319.5" cy="43.6" rx="4.40" ry="4.30" fill="#8c8c8c"/><ellipse cx="319.5" cy="43.6" rx="3.30" ry="3.30" fill="#a8a8a8"/><ellipse cx="319.5" cy="43.6" rx="1.74" ry="1.80" fill="#cccccc"/><ellipse cx="319.5" cy="62.5" rx="3.60" ry="12.80" fill="#9e9e9e"/><ellipse cx="319.5" cy="62.5" rx="2.70" ry="11.70" fill="#b8b8b8"/><ellipse cx="319.5" cy="62.5" rx="2.00" ry="10.90" fill="#cccccc"/><ellipse cx="319.5" cy="62.5" rx="1.40" ry="10.20" fill="#e6e6e6"/><rect x="340.2" y="35.0" width="11.2" height="43.0" rx="4.5" fill="#5c5c5c"/><ellipse cx="345.8" cy="59.5" rx="4.50" ry="18.00" fill="#808080"/><ellipse cx="345.8" cy="49.6" rx="3.00" ry="2.60" fill="#999999"/><ellipse cx="345.8" cy="49.6" rx="2.00" ry="1.80" fill="#b2b2b2"/><ellipse cx="345.8" cy="43.4" rx="4.50" ry="4.20" fill="#8c8c8c"/><ellipse cx="345.8" cy="43.4" rx="3.40" ry="3.20" fill="#a8a8a8"/><ellipse cx="345.8" cy="43.4" rx="1.80" ry="1.74" fill="#d1d1d1"/><ellipse cx="345.8" cy="60.0" rx="3.70" ry="9.40" fill="#9e9e9e"/><ellipse cx="345.8" cy="60.0" rx="2.80" ry="8.30" fill="#b8b8b8"/><ellipse cx="345.8" cy="60.0" rx="2.10" ry="7.50" fill="#cccccc"/><ellipse cx="345.8" cy="60.0" rx="1.50" ry="6.80" fill="#e6e6e6"/><ellipse cx="345.8" cy="69.0" rx="3.50" ry="6.20" fill="#9e9e9e"/><ellipse cx="345.8" cy="69.0" rx="2.60" ry="5.10" fill="#b8b8b8"/><ellipse cx="345.8" cy="69.0" rx="1.90" ry="4.30" fill="#cccccc"/><ellipse cx="345.8" cy="69.0" rx="1.30" ry="3.60" fill="#d6d6d6"/><rect x="366.0" y="35.0" width="11.2" height="43.0" rx="4.5" fill="#5c5c5c"/><ellipse cx="371.6" cy="59.5" rx="4.50" ry="18.00" fill="#808080"/><ellipse cx="371.6" cy="44.5" rx="4.50" ry="4.40" fill="#8c8c8c"/><ellipse cx="371.6" cy="44.5" rx="3.40" ry="3.40" fill="#a8a8a8"/><ellipse cx="371.6" cy="44.5" rx="1.80" ry="1.86" fill="#cccccc"/><ellipse cx="371.6" cy="58.6" rx="3.70" ry="9.20" fill="#9e9e9e"/><ellipse cx="371.6" cy="58.6" rx="2.80" ry="8.10" fill="#b8b8b8"/><ellipse cx="371.6" cy="58.6" rx="2.10" ry="7.30" fill="#cccccc"/><ellipse cx="371.6" cy="58.6" rx="1.50" ry="6.60" fill="#e6e6e6"/><ellipse cx="371.6" cy="68.0" rx="3.40" ry="6.20" fill="#9e9e9e"/><ellipse cx="371.6" cy="68.0" rx="2.50" ry="5.10" fill="#b8b8b8"/><ellipse cx="371.6" cy="68.0" rx="1.80" ry="4.30" fill="#cccccc"/><ellipse cx="371.6" cy="68.0" rx="1.20" ry="3.60" fill="#cccccc"/><rect x="392.4" y="35.0" width="11.2" height="43.0" rx="4.5" fill="#5c5c5c"/><ellipse cx="398.0" cy="59.5" rx="4.50" ry="18.00" fill="#808080"/><ellipse cx="398.0" cy="43.6" rx="4.20" ry="4.40" fill="#8c8c8c"/><ellipse cx="398.0" cy="43.6" rx="3.10" ry="3.40" fill="#a8a8a8"/><ellipse cx="398.0" cy="43.6" rx="1.61" ry="1.86" fill="#b8b8b8"/><ellipse cx="398.0" cy="56.7" rx="4.30" ry="6.40" fill="#9e9e9e"/><ellipse cx="398.0" cy="56.7" rx="3.40" ry="5.30" fill="#b8b8b8"/><ellipse cx="398.0" cy="56.7" rx="2.70" ry="4.50" fill="#cccccc"/><ellipse cx="398.0" cy="56.7" rx="2.10" ry="3.80" fill="#ebebeb"/><ellipse cx="398.0" cy="67.0" rx="3.70" ry="7.20" fill="#9e9e9e"/><ellipse cx="398.0" cy="67.0" rx="2.80" ry="6.10" fill="#b8b8b8"/><ellipse cx="398.0" cy="67.0" rx="2.10" ry="5.30" fill="#cccccc"/><ellipse cx="398.0" cy="67.0" rx="1.50" ry="4.60" fill="#d6d6d6"/><rect x="418.3" y="35.0" width="11.6" height="43.0" rx="4.6" fill="#5c5c5c"/><ellipse cx="424.1" cy="59.5" rx="4.70" ry="18.00" fill="#808080"/><ellipse cx="424.1" cy="43.6" rx="4.30" ry="4.20" fill="#8c8c8c"/><ellipse cx="424.1" cy="43.6" rx="3.20" ry="3.20" fill="#a8a8a8"/><ellipse cx="424.1" cy="43.6" rx="1.67" ry="1.74" fill="#e6e6e6"/><ellipse cx="424.1" cy="59.2" rx="4.50" ry="7.40" fill="#9e9e9e"/><ellipse cx="424.1" cy="59.2" rx="3.60" ry="6.30" fill="#b8b8b8"/><ellipse cx="424.1" cy="59.2" rx="2.90" ry="5.50" fill="#cccccc"/><ellipse cx="424.1" cy="59.2" rx="2.30" ry="4.80" fill="#ededed"/><ellipse cx="424.1" cy="68.5" rx="3.80" ry="5.80" fill="#9e9e9e"/><ellipse cx="424.1" cy="68.5" rx="2.90" ry="4.70" fill="#b8b8b8"/><ellipse cx="424.1" cy="68.5" rx="2.20" ry="3.90" fill="#cccccc"/><ellipse cx="424.1" cy="68.5" rx="1.60" ry="3.20" fill="#d6d6d6"/><rect x="444.7" y="35.0" width="11.6" height="43.0" rx="4.6" fill="#5c5c5c"/><ellipse cx="450.5" cy="59.5" rx="4.70" ry="18.00" fill="#808080"/><ellipse cx="450.5" cy="46.0" rx="3.60" ry="3.40" fill="#8c8c8c"/><ellipse cx="450.5" cy="46.0" rx="2.50" ry="2.40" fill="#a8a8a8"/><ellipse cx="450.5" cy="46.0" rx="1.24" ry="1.24" fill="#d6d6d6"/><ellipse cx="450.5" cy="58.6" rx="3.80" ry="14.80" fill="#9e9e9e"/><ellipse cx="450.5" cy="58.6" rx="2.90" ry="13.70" fill="#b8b8b8"/><ellipse cx="450.5" cy="58.6" rx="2.20" ry="12.90" fill="#cccccc"/><ellipse cx="450.5" cy="58.6" rx="1.60" ry="12.20" fill="#ebebeb"/><rect x="469.9" y="35.0" width="14.0" height="43.0" rx="5.6" fill="#525252"/><ellipse cx="476.9" cy="58.0" rx="5.40" ry="18.00" fill="#808080"/><ellipse cx="476.9" cy="45.2" rx="6.60" ry="6.40" fill="#808080"/><ellipse cx="476.9" cy="45.2" rx="5.70" ry="5.60" fill="#9e9e9e"/><ellipse cx="476.9" cy="45.2" rx="4.90" ry="4.80" fill="#b8b8b8"/><ellipse cx="476.9" cy="45.2" rx="4.10" ry="4.00" fill="#d1d1d1"/><ellipse cx="476.9" cy="45.2" rx="3.30" ry="3.20" fill="#d1d1d1"/><ellipse cx="476.9" cy="57.0" rx="6.60" ry="6.40" fill="#808080"/><ellipse cx="476.9" cy="57.0" rx="5.70" ry="5.60" fill="#9e9e9e"/><ellipse cx="476.9" cy="57.0" rx="4.90" ry="4.80" fill="#b8b8b8"/><ellipse cx="476.9" cy="57.0" rx="4.10" ry="4.00" fill="#d1d1d1"/><ellipse cx="476.9" cy="57.0" rx="3.30" ry="3.20" fill="#ededed"/><ellipse cx="476.9" cy="68.9" rx="6.60" ry="6.40" fill="#808080"/><ellipse cx="476.9" cy="68.9" rx="5.70" ry="5.60" fill="#9e9e9e"/><ellipse cx="476.9" cy="68.9" rx="4.90" ry="4.80" fill="#b8b8b8"/><ellipse cx="476.9" cy="68.9" rx="4.10" ry="4.00" fill="#d1d1d1"/><ellipse cx="476.9" cy="68.9" rx="3.30" ry="3.20" fill="#ededed"/></g></g>
<path d="M236.77 76.30V34.47Q236.77 32.87 238.37 32.87H243.63Q245.23 32.87 245.23 34.47V76.30M262.12 76.30V34.47Q262.12 32.87 263.72 32.87H270.68Q272.28 32.87 272.28 34.47V76.30M287.67 76.30V34.47Q287.67 32.87 289.27 32.87H297.93Q299.53 32.87 299.53 34.47V76.30M312.77 76.30V34.47Q312.77 32.87 314.37 32.87H324.63Q326.23 32.87 326.23 34.47V76.30M339.12 76.30V34.47Q339.12 32.87 340.72 32.87H350.88Q352.48 32.87 352.48 34.47V76.30M364.87 76.30V34.47Q364.87 32.87 366.47 32.87H376.73Q378.33 32.87 378.33 34.47V76.30M391.12 76.30V34.47Q391.12 32.87 392.72 32.87H403.28Q404.88 32.87 404.88 34.47V76.30M417.02 76.30V34.47Q417.02 32.87 418.62 32.87H429.58Q431.18 32.87 431.18 34.47V76.30M443.37 76.30V34.47Q443.37 32.87 444.97 32.87H456.03Q457.63 32.87 457.63 34.47V76.30M468.62 76.30V34.47Q468.62 32.87 470.22 32.87H483.58Q485.18 32.87 485.18 34.47V76.30M224.4 76.30H492.9" fill="none" stroke="#fff" stroke-width="1.45"/>
<path d="M279.9 78.5v-2.6M345.6 78.5v-2.6M411.3 78.5v-2.6M477.0 78.5v-2.6" stroke="#222" stroke-width=".7" fill="none"/>
<text transform="translate(222.2 42.4) scale(1.08 1)" text-anchor="end" font-family="Liberation Sans, sans-serif" font-size="10.6" fill="#222">1.5</text>
<text transform="translate(222.2 55.0) scale(1.08 1)" text-anchor="end" font-family="Liberation Sans, sans-serif" font-size="10.6" fill="#222">1</text>
<text transform="translate(222.2 67.6) scale(1.08 1)" text-anchor="end" font-family="Liberation Sans, sans-serif" font-size="10.6" fill="#222">0.5</text>
<text transform="translate(222.2 80.2) scale(1.08 1)" text-anchor="end" font-family="Liberation Sans, sans-serif" font-size="10.6" fill="#222">0</text>
<text transform="translate(279.9 93.2) scale(1.08 1)" text-anchor="middle" font-family="Liberation Sans, sans-serif" font-size="10.6" fill="#222">2</text>
<text transform="translate(345.6 93.2) scale(1.08 1)" text-anchor="middle" font-family="Liberation Sans, sans-serif" font-size="10.6" fill="#222">4</text>
<text transform="translate(411.3 93.2) scale(1.08 1)" text-anchor="middle" font-family="Liberation Sans, sans-serif" font-size="10.6" fill="#222">6</text>
<text transform="translate(477.0 93.2) scale(1.08 1)" text-anchor="middle" font-family="Liberation Sans, sans-serif" font-size="10.6" fill="#222">8</text>
<text x="357.5" y="108.0" text-anchor="middle" font-family="Liberation Sans, sans-serif" font-size="12.5" font-weight="bold" fill="#111">X (μm)</text>
<text transform="translate(198.3 53.2) rotate(-90)" text-anchor="middle" font-family="Liberation Sans, sans-serif" font-size="12.5" font-weight="bold" fill="#111">Z (μm)</text>
<rect x="503.4" y="27.1" width="14.4" height="51.4" fill="url(#jet)" stroke="#444" stroke-width=".4"/>
<text transform="translate(522.8 31.3) scale(1.08 1)" font-family="Liberation Sans, sans-serif" font-size="10.6" fill="#222">1</text>
<text transform="translate(522.8 57.0) scale(1.08 1)" font-family="Liberation Sans, sans-serif" font-size="10.6" fill="#222">0.5</text>
<text transform="translate(522.8 82.7) scale(1.08 1)" font-family="Liberation Sans, sans-serif" font-size="10.6" fill="#222">0</text>
<g clip-path="url(#cpb)"><g filter="url(#jhb)"><rect x="214.4" y="114.8" width="288.5" height="70.8" fill="#161616"/><ellipse cx="360.0" cy="150.0" rx="140.00" ry="10.00" fill="#1a1a1a"/><ellipse cx="300.0" cy="168.0" rx="50.00" ry="5.00" fill="#0f0f0f"/><ellipse cx="430.0" cy="134.0" rx="60.00" ry="5.00" fill="#0f0f0f"/><ellipse cx="241.0" cy="136.9" rx="2.90" ry="2.90" fill="#454545"/><ellipse cx="241.0" cy="136.9" rx="2.38" ry="2.38" fill="#6f6f6f"/><ellipse cx="241.0" cy="136.9" rx="1.91" ry="1.91" fill="#9d9d9d"/><ellipse cx="241.0" cy="136.9" rx="1.45" ry="1.45" fill="#d0d0d0"/><ellipse cx="241.0" cy="136.9" rx="0.99" ry="0.99" fill="#ffffff"/><ellipse cx="241.0" cy="142.3" rx="2.90" ry="2.90" fill="#434343"/><ellipse cx="241.0" cy="142.3" rx="2.38" ry="2.38" fill="#6a6a6a"/><ellipse cx="241.0" cy="142.3" rx="1.91" ry="1.91" fill="#969696"/><ellipse cx="241.0" cy="142.3" rx="1.45" ry="1.45" fill="#c7c7c7"/><ellipse cx="241.0" cy="142.3" rx="0.99" ry="0.99" fill="#f3f3f3"/><ellipse cx="241.0" cy="146.9" rx="1.80" ry="1.80" fill="#343434"/><ellipse cx="241.0" cy="146.9" rx="1.08" ry="1.08" fill="#545454"/><ellipse cx="241.0" cy="153.7" rx="2.90" ry="2.90" fill="#434343"/><ellipse cx="241.0" cy="153.7" rx="2.38" ry="2.38" fill="#6a6a6a"/><ellipse cx="241.0" cy="153.7" rx="1.91" ry="1.91" fill="#969696"/><ellipse cx="241.0" cy="153.7" rx="1.45" ry="1.45" fill="#c7c7c7"/><ellipse cx="241.0" cy="153.7" rx="0.99" ry="0.99" fill="#f3f3f3"/><ellipse cx="241.0" cy="159.8" rx="2.90" ry="2.90" fill="#3a3a3a"/><ellipse cx="241.0" cy="159.8" rx="2.38" ry="2.38" fill="#5a5a5a"/><ellipse cx="241.0" cy="159.8" rx="1.91" ry="1.91" fill="#7d7d7d"/><ellipse cx="241.0" cy="159.8" rx="1.45" ry="1.45" fill="#a4a4a4"/><ellipse cx="241.0" cy="159.8" rx="0.99" ry="0.99" fill="#c8c8c8"/><ellipse cx="241.0" cy="164.9" rx="1.80" ry="1.80" fill="#343434"/><ellipse cx="241.0" cy="164.9" rx="1.08" ry="1.08" fill="#545454"/><ellipse cx="241.0" cy="170.1" rx="2.90" ry="2.90" fill="#454545"/><ellipse cx="241.0" cy="170.1" rx="2.38" ry="2.38" fill="#6f6f6f"/><ellipse cx="241.0" cy="170.1" rx="1.91" ry="1.91" fill="#9d9d9d"/><ellipse cx="241.0" cy="170.1" rx="1.45" ry="1.45" fill="#d0d0d0"/><ellipse cx="241.0" cy="170.1" rx="0.99" ry="0.99" fill="#ffffff"/><ellipse cx="267.2" cy="134.9" rx="1.80" ry="1.80" fill="#343434"/><ellipse cx="267.2" cy="134.9" rx="1.08" ry="1.08" fill="#545454"/><ellipse cx="267.2" cy="139.3" rx="2.90" ry="2.90" fill="#404040"/><ellipse cx="267.2" cy="139.3" rx="2.38" ry="2.38" fill="#656565"/><ellipse cx="267.2" cy="139.3" rx="1.91" ry="1.91" fill="#8e8e8e"/><ellipse cx="267.2" cy="139.3" rx="1.45" ry="1.45" fill="#bbbbbb"/><ellipse cx="267.2" cy="139.3" rx="0.99" ry="0.99" fill="#e4e4e4"/><ellipse cx="267.2" cy="144.7" rx="1.80" ry="1.80" fill="#343434"/><ellipse cx="267.2" cy="144.7" rx="1.08" ry="1.08" fill="#545454"/><ellipse cx="267.2" cy="149.6" rx="2.20" ry="2.20" fill="#454545"/><ellipse cx="267.2" cy="149.6" rx="1.32" ry="1.32" fill="#767676"/><ellipse cx="267.2" cy="153.7" rx="2.90" ry="2.90" fill="#3b3b3b"/><ellipse cx="267.2" cy="153.7" rx="2.38" ry="2.38" fill="#5c5c5c"/><ellipse cx="267.2" cy="153.7" rx="1.91" ry="1.91" fill="#818181"/><ellipse cx="267.2" cy="153.7" rx="1.45" ry="1.45" fill="#a9a9a9"/><ellipse cx="267.2" cy="153.7" rx="0.99" ry="0.99" fill="#cecece"/><ellipse cx="267.2" cy="163.2" rx="2.90" ry="2.90" fill="#373737"/><ellipse cx="267.2" cy="163.2" rx="2.38" ry="2.38" fill="#535353"/><ellipse cx="267.2" cy="163.2" rx="1.91" ry="1.91" fill="#737373"/><ellipse cx="267.2" cy="163.2" rx="1.45" ry="1.45" fill="#979797"/><ellipse cx="267.2" cy="163.2" rx="0.99" ry="0.99" fill="#b7b7b7"/><ellipse cx="267.2" cy="168.5" rx="2.20" ry="2.20" fill="#424242"/><ellipse cx="267.2" cy="168.5" rx="1.32" ry="1.32" fill="#707070"/><ellipse cx="292.0" cy="136.0" rx="2.60" ry="2.60" fill="#323232"/><ellipse cx="292.0" cy="136.0" rx="2.13" ry="2.13" fill="#4b4b4b"/><ellipse cx="292.0" cy="136.0" rx="1.72" ry="1.72" fill="#666666"/><ellipse cx="292.0" cy="136.0" rx="1.30" ry="1.30" fill="#848484"/><ellipse cx="292.0" cy="136.0" rx="0.88" ry="0.88" fill="#a0a0a0"/><ellipse cx="295.4" cy="139.8" rx="2.60" ry="2.60" fill="#323232"/><ellipse cx="295.4" cy="139.8" rx="2.13" ry="2.13" fill="#4b4b4b"/><ellipse cx="295.4" cy="139.8" rx="1.72" ry="1.72" fill="#666666"/><ellipse cx="295.4" cy="139.8" rx="1.30" ry="1.30" fill="#848484"/><ellipse cx="295.4" cy="139.8" rx="0.88" ry="0.88" fill="#a0a0a0"/><ellipse cx="293.6" cy="149.6" rx="2.90" ry="2.90" fill="#3b3b3b"/><ellipse cx="293.6" cy="149.6" rx="2.38" ry="2.38" fill="#5c5c5c"/><ellipse cx="293.6" cy="149.6" rx="1.91" ry="1.91" fill="#818181"/><ellipse cx="293.6" cy="149.6" rx="1.45" ry="1.45" fill="#a9a9a9"/><ellipse cx="293.6" cy="149.6" rx="0.99" ry="0.99" fill="#cecece"/><ellipse cx="293.6" cy="153.7" rx="1.80" ry="1.80" fill="#343434"/><ellipse cx="293.6" cy="153.7" rx="1.08" ry="1.08" fill="#545454"/><ellipse cx="293.6" cy="158.3" rx="2.20" ry="2.20" fill="#424242"/><ellipse cx="293.6" cy="158.3" rx="1.32" ry="1.32" fill="#707070"/><ellipse cx="293.6" cy="163.2" rx="2.90" ry="2.90" fill="#383838"/><ellipse cx="293.6" cy="163.2" rx="2.38" ry="2.38" fill="#565656"/><ellipse cx="293.6" cy="163.2" rx="1.91" ry="1.91" fill="#777777"/><ellipse cx="293.6" cy="163.2" rx="1.45" ry="1.45" fill="#9b9b9b"/><ellipse cx="293.6" cy="163.2" rx="0.99" ry="0.99" fill="#bcbcbc"/><ellipse cx="290.3" cy="167.6" rx="1.90" ry="1.90" fill="#3f3f3f"/><ellipse cx="290.3" cy="167.6" rx="1.14" ry="1.14" fill="#6b6b6b"/><ellipse cx="293.6" cy="170.9" rx="2.60" ry="2.60" fill="#323232"/><ellipse cx="293.6" cy="170.9" rx="2.13" ry="2.13" fill="#4b4b4b"/><ellipse cx="293.6" cy="170.9" rx="1.72" ry="1.72" fill="#666666"/><ellipse cx="293.6" cy="170.9" rx="1.30" ry="1.30" fill="#848484"/><ellipse cx="293.6" cy="170.9" rx="0.88" ry="0.88" fill="#a0a0a0"/><ellipse cx="313.9" cy="151.5" rx="1.70" ry="4.20" fill="#464646"/><ellipse cx="313.9" cy="151.5" rx="1.00" ry="2.94" fill="#666666"/><ellipse cx="325.1" cy="151.5" rx="1.70" ry="4.20" fill="#464646"/><ellipse cx="325.1" cy="151.5" rx="1.00" ry="2.94" fill="#666666"/><ellipse cx="313.9" cy="164.8" rx="1.70" ry="4.20" fill="#464646"/><ellipse cx="313.9" cy="164.8" rx="1.00" ry="2.94" fill="#666666"/><ellipse cx="325.1" cy="164.8" rx="1.70" ry="4.20" fill="#464646"/><ellipse cx="325.1" cy="164.8" rx="1.00" ry="2.94" fill="#666666"/><ellipse cx="319.5" cy="137.4" rx="2.60" ry="2.60" fill="#3d3d3d"/><ellipse cx="319.5" cy="137.4" rx="2.13" ry="2.13" fill="#5f5f5f"/><ellipse cx="319.5" cy="137.4" rx="1.72" ry="1.72" fill="#868686"/><ellipse cx="319.5" cy="137.4" rx="1.30" ry="1.30" fill="#b0b0b0"/><ellipse cx="319.5" cy="137.4" rx="0.88" ry="0.88" fill="#d6d6d6"/><ellipse cx="319.5" cy="141.9" rx="2.30" ry="2.30" fill="#343434"/><ellipse cx="319.5" cy="141.9" rx="1.89" ry="1.89" fill="#4f4f4f"/><ellipse cx="319.5" cy="141.9" rx="1.52" ry="1.52" fill="#6d6d6d"/><ellipse cx="319.5" cy="141.9" rx="1.15" ry="1.15" fill="#8e8e8e"/><ellipse cx="319.5" cy="141.9" rx="0.78" ry="0.78" fill="#ababab"/><ellipse cx="319.5" cy="150.5" rx="3.40" ry="3.40" fill="#454545"/><ellipse cx="319.5" cy="150.5" rx="2.79" ry="2.79" fill="#6f6f6f"/><ellipse cx="319.5" cy="150.5" rx="2.24" ry="2.24" fill="#9d9d9d"/><ellipse cx="319.5" cy="150.5" rx="1.70" ry="1.70" fill="#d0d0d0"/><ellipse cx="319.5" cy="150.5" rx="1.16" ry="1.16" fill="#ffffff"/><ellipse cx="319.5" cy="156.2" rx="2.20" ry="2.20" fill="#4c4c4c"/><ellipse cx="319.5" cy="156.2" rx="1.32" ry="1.32" fill="#848484"/><ellipse cx="319.5" cy="163.9" rx="3.10" ry="3.10" fill="#454545"/><ellipse cx="319.5" cy="163.9" rx="2.54" ry="2.54" fill="#6f6f6f"/><ellipse cx="319.5" cy="163.9" rx="2.05" ry="2.05" fill="#9d9d9d"/><ellipse cx="319.5" cy="163.9" rx="1.55" ry="1.55" fill="#d0d0d0"/><ellipse cx="319.5" cy="163.9" rx="1.05" ry="1.05" fill="#ffffff"/><ellipse cx="319.5" cy="170.1" rx="2.60" ry="2.60" fill="#3b3b3b"/><ellipse cx="319.5" cy="170.1" rx="2.13" ry="2.13" fill="#5c5c5c"/><ellipse cx="319.5" cy="170.1" rx="1.72" ry="1.72" fill="#818181"/><ellipse cx="319.5" cy="170.1" rx="1.30" ry="1.30" fill="#a9a9a9"/><ellipse cx="319.5" cy="170.1" rx="0.88" ry="0.88" fill="#cecece"/><ellipse cx="340.3" cy="152.0" rx="1.70" ry="5.20" fill="#464646"/><ellipse cx="340.3" cy="152.0" rx="1.00" ry="3.64" fill="#666666"/><ellipse cx="351.3" cy="152.0" rx="1.70" ry="5.20" fill="#464646"/><ellipse cx="351.3" cy="152.0" rx="1.00" ry="3.64" fill="#666666"/><ellipse cx="340.3" cy="164.8" rx="1.70" ry="4.20" fill="#464646"/><ellipse cx="340.3" cy="164.8" rx="1.00" ry="2.94" fill="#666666"/><ellipse cx="351.3" cy="164.8" rx="1.70" ry="4.20" fill="#464646"/><ellipse cx="351.3" cy="164.8" rx="1.00" ry="2.94" fill="#666666"/><ellipse cx="345.8" cy="137.4" rx="2.50" ry="2.50" fill="#444444"/><ellipse cx="345.8" cy="137.4" rx="2.05" ry="2.05" fill="#6d6d6d"/><ellipse cx="345.8" cy="137.4" rx="1.65" ry="1.65" fill="#9b9b9b"/><ellipse cx="345.8" cy="137.4" rx="1.25" ry="1.25" fill="#cecece"/><ellipse cx="345.8" cy="137.4" rx="0.85" ry="0.85" fill="#fbfbfb"/><ellipse cx="345.8" cy="142.3" rx="2.40" ry="2.40" fill="#3b3b3b"/><ellipse cx="345.8" cy="142.3" rx="1.97" ry="1.97" fill="#5c5c5c"/><ellipse cx="345.8" cy="142.3" rx="1.58" ry="1.58" fill="#818181"/><ellipse cx="345.8" cy="142.3" rx="1.20" ry="1.20" fill="#a9a9a9"/><ellipse cx="345.8" cy="142.3" rx="0.82" ry="0.82" fill="#cecece"/><ellipse cx="345.8" cy="152.6" rx="3.40" ry="7.20" fill="#454545"/><ellipse cx="345.8" cy="152.6" rx="2.79" ry="5.90" fill="#6f6f6f"/><ellipse cx="345.8" cy="152.6" rx="2.24" ry="4.75" fill="#9d9d9d"/><ellipse cx="345.8" cy="152.6" rx="1.70" ry="3.60" fill="#d0d0d0"/><ellipse cx="345.8" cy="152.6" rx="1.16" ry="2.45" fill="#ffffff"/><ellipse cx="345.8" cy="163.9" rx="3.30" ry="3.30" fill="#454545"/><ellipse cx="345.8" cy="163.9" rx="2.71" ry="2.71" fill="#6f6f6f"/><ellipse cx="345.8" cy="163.9" rx="2.18" ry="2.18" fill="#9d9d9d"/><ellipse cx="345.8" cy="163.9" rx="1.65" ry="1.65" fill="#d0d0d0"/><ellipse cx="345.8" cy="163.9" rx="1.12" ry="1.12" fill="#ffffff"/><ellipse cx="345.8" cy="170.1" rx="2.30" ry="2.30" fill="#353535"/><ellipse cx="345.8" cy="170.1" rx="1.89" ry="1.89" fill="#515151"/><ellipse cx="345.8" cy="170.1" rx="1.52" ry="1.52" fill="#707070"/><ellipse cx="345.8" cy="170.1" rx="1.15" ry="1.15" fill="#929292"/><ellipse cx="345.8" cy="170.1" rx="0.78" ry="0.78" fill="#b1b1b1"/><ellipse cx="366.1" cy="152.0" rx="1.70" ry="5.20" fill="#434343"/><ellipse cx="366.1" cy="152.0" rx="1.00" ry="3.64" fill="#616161"/><ellipse cx="377.1" cy="152.0" rx="1.70" ry="5.20" fill="#434343"/><ellipse cx="377.1" cy="152.0" rx="1.00" ry="3.64" fill="#616161"/><ellipse cx="366.1" cy="164.8" rx="1.70" ry="4.20" fill="#434343"/><ellipse cx="366.1" cy="164.8" rx="1.00" ry="2.94" fill="#616161"/><ellipse cx="377.1" cy="164.8" rx="1.70" ry="4.20" fill="#434343"/><ellipse cx="377.1" cy="164.8" rx="1.00" ry="2.94" fill="#616161"/><ellipse cx="371.6" cy="137.4" rx="2.60" ry="2.60" fill="#454545"/><ellipse cx="371.6" cy="137.4" rx="2.13" ry="2.13" fill="#6f6f6f"/><ellipse cx="371.6" cy="137.4" rx="1.72" ry="1.72" fill="#9d9d9d"/><ellipse cx="371.6" cy="137.4" rx="1.30" ry="1.30" fill="#d0d0d0"/><ellipse cx="371.6" cy="137.4" rx="0.88" ry="0.88" fill="#ffffff"/><ellipse cx="371.6" cy="141.7" rx="2.60" ry="2.60" fill="#434343"/><ellipse cx="371.6" cy="141.7" rx="2.13" ry="2.13" fill="#6b6b6b"/><ellipse cx="371.6" cy="141.7" rx="1.72" ry="1.72" fill="#989898"/><ellipse cx="371.6" cy="141.7" rx="1.30" ry="1.30" fill="#c9c9c9"/><ellipse cx="371.6" cy="141.7" rx="0.88" ry="0.88" fill="#f6f6f6"/><ellipse cx="371.6" cy="152.3" rx="3.40" ry="7.00" fill="#454545"/><ellipse cx="371.6" cy="152.3" rx="2.79" ry="5.74" fill="#6f6f6f"/><ellipse cx="371.6" cy="152.3" rx="2.24" ry="4.62" fill="#9d9d9d"/><ellipse cx="371.6" cy="152.3" rx="1.70" ry="3.50" fill="#d0d0d0"/><ellipse cx="371.6" cy="152.3" rx="1.16" ry="2.38" fill="#ffffff"/><ellipse cx="371.6" cy="163.9" rx="3.30" ry="3.30" fill="#454545"/><ellipse cx="371.6" cy="163.9" rx="2.71" ry="2.71" fill="#6f6f6f"/><ellipse cx="371.6" cy="163.9" rx="2.18" ry="2.18" fill="#9d9d9d"/><ellipse cx="371.6" cy="163.9" rx="1.65" ry="1.65" fill="#d0d0d0"/><ellipse cx="371.6" cy="163.9" rx="1.12" ry="1.12" fill="#ffffff"/><ellipse cx="371.6" cy="169.8" rx="2.30" ry="2.30" fill="#4d4d4d"/><ellipse cx="371.6" cy="169.8" rx="1.38" ry="1.38" fill="#878787"/><rect x="395.7" y="161.0" width="4.6" height="11.5" rx="1.8" fill="#545454"/><ellipse cx="398.0" cy="141.0" rx="3.70" ry="4.40" fill="#454545"/><ellipse cx="398.0" cy="141.0" rx="3.03" ry="3.61" fill="#6f6f6f"/><ellipse cx="398.0" cy="141.0" rx="2.44" ry="2.90" fill="#9d9d9d"/><ellipse cx="398.0" cy="141.0" rx="1.85" ry="2.20" fill="#d0d0d0"/><ellipse cx="398.0" cy="141.0" rx="1.26" ry="1.50" fill="#ffffff"/><ellipse cx="398.0" cy="152.0" rx="3.80" ry="5.40" fill="#454545"/><ellipse cx="398.0" cy="152.0" rx="3.12" ry="4.43" fill="#6f6f6f"/><ellipse cx="398.0" cy="152.0" rx="2.51" ry="3.56" fill="#9d9d9d"/><ellipse cx="398.0" cy="152.0" rx="1.90" ry="2.70" fill="#d0d0d0"/><ellipse cx="398.0" cy="152.0" rx="1.29" ry="1.84" fill="#ffffff"/><ellipse cx="398.0" cy="163.4" rx="3.50" ry="3.50" fill="#454545"/><ellipse cx="398.0" cy="163.4" rx="2.87" ry="2.87" fill="#6f6f6f"/><ellipse cx="398.0" cy="163.4" rx="2.31" ry="2.31" fill="#9d9d9d"/><ellipse cx="398.0" cy="163.4" rx="1.75" ry="1.75" fill="#d0d0d0"/><ellipse cx="398.0" cy="163.4" rx="1.19" ry="1.19" fill="#ffffff"/><rect x="421.8" y="161.0" width="4.6" height="11.5" rx="1.8" fill="#545454"/><ellipse cx="424.1" cy="141.0" rx="3.70" ry="4.40" fill="#454545"/><ellipse cx="424.1" cy="141.0" rx="3.03" ry="3.61" fill="#6f6f6f"/><ellipse cx="424.1" cy="141.0" rx="2.44" ry="2.90" fill="#9d9d9d"/><ellipse cx="424.1" cy="141.0" rx="1.85" ry="2.20" fill="#d0d0d0"/><ellipse cx="424.1" cy="141.0" rx="1.26" ry="1.50" fill="#ffffff"/><ellipse cx="424.1" cy="152.0" rx="3.80" ry="5.40" fill="#454545"/><ellipse cx="424.1" cy="152.0" rx="3.12" ry="4.43" fill="#6f6f6f"/><ellipse cx="424.1" cy="152.0" rx="2.51" ry="3.56" fill="#9d9d9d"/><ellipse cx="424.1" cy="152.0" rx="1.90" ry="2.70" fill="#d0d0d0"/><ellipse cx="424.1" cy="152.0" rx="1.29" ry="1.84" fill="#ffffff"/><ellipse cx="424.1" cy="163.4" rx="3.50" ry="3.50" fill="#454545"/><ellipse cx="424.1" cy="163.4" rx="2.87" ry="2.87" fill="#6f6f6f"/><ellipse cx="424.1" cy="163.4" rx="2.31" ry="2.31" fill="#9d9d9d"/><ellipse cx="424.1" cy="163.4" rx="1.75" ry="1.75" fill="#d0d0d0"/><ellipse cx="424.1" cy="163.4" rx="1.19" ry="1.19" fill="#ffffff"/><rect x="448.2" y="161.0" width="4.6" height="11.5" rx="1.8" fill="#545454"/><ellipse cx="450.5" cy="141.0" rx="3.70" ry="4.40" fill="#454545"/><ellipse cx="450.5" cy="141.0" rx="3.03" ry="3.61" fill="#6f6f6f"/><ellipse cx="450.5" cy="141.0" rx="2.44" ry="2.90" fill="#9d9d9d"/><ellipse cx="450.5" cy="141.0" rx="1.85" ry="2.20" fill="#d0d0d0"/><ellipse cx="450.5" cy="141.0" rx="1.26" ry="1.50" fill="#ffffff"/><ellipse cx="450.5" cy="152.0" rx="3.80" ry="5.40" fill="#454545"/><ellipse cx="450.5" cy="152.0" rx="3.12" ry="4.43" fill="#6f6f6f"/><ellipse cx="450.5" cy="152.0" rx="2.51" ry="3.56" fill="#9d9d9d"/><ellipse cx="450.5" cy="152.0" rx="1.90" ry="2.70" fill="#d0d0d0"/><ellipse cx="450.5" cy="152.0" rx="1.29" ry="1.84" fill="#ffffff"/><ellipse cx="450.5" cy="163.4" rx="3.50" ry="3.50" fill="#434343"/><ellipse cx="450.5" cy="163.4" rx="2.87" ry="2.87" fill="#6b6b6b"/><ellipse cx="450.5" cy="163.4" rx="2.31" ry="2.31" fill="#989898"/><ellipse cx="450.5" cy="163.4" rx="1.75" ry="1.75" fill="#c9c9c9"/><ellipse cx="450.5" cy="163.4" rx="1.19" ry="1.19" fill="#f6f6f6"/><ellipse cx="472.0" cy="152.0" rx="1.70" ry="5.80" fill="#686868"/><ellipse cx="472.0" cy="152.0" rx="1.00" ry="4.06" fill="#9e9e9e"/><ellipse cx="481.8" cy="152.0" rx="1.70" ry="5.80" fill="#686868"/><ellipse cx="481.8" cy="152.0" rx="1.00" ry="4.06" fill="#9e9e9e"/><ellipse cx="471.5" cy="137.0" rx="1.70" ry="1.90" fill="#494949"/><ellipse cx="471.5" cy="137.0" rx="1.00" ry="1.33" fill="#6b6b6b"/><ellipse cx="482.3" cy="137.0" rx="1.70" ry="1.90" fill="#494949"/><ellipse cx="482.3" cy="137.0" rx="1.00" ry="1.33" fill="#6b6b6b"/><ellipse cx="471.5" cy="167.5" rx="1.70" ry="1.90" fill="#494949"/><ellipse cx="471.5" cy="167.5" rx="1.00" ry="1.33" fill="#6b6b6b"/><ellipse cx="482.3" cy="167.5" rx="1.70" ry="1.90" fill="#494949"/><ellipse cx="482.3" cy="167.5" rx="1.00" ry="1.33" fill="#6b6b6b"/><ellipse cx="476.9" cy="141.0" rx="3.60" ry="4.40" fill="#454545"/><ellipse cx="476.9" cy="141.0" rx="2.95" ry="3.61" fill="#6f6f6f"/><ellipse cx="476.9" cy="141.0" rx="2.38" ry="2.90" fill="#9d9d9d"/><ellipse cx="476.9" cy="141.0" rx="1.80" ry="2.20" fill="#d0d0d0"/><ellipse cx="476.9" cy="141.0" rx="1.22" ry="1.50" fill="#ffffff"/><ellipse cx="476.9" cy="152.0" rx="2.90" ry="4.20" fill="#454545"/><ellipse cx="476.9" cy="152.0" rx="2.38" ry="3.44" fill="#6f6f6f"/><ellipse cx="476.9" cy="152.0" rx="1.91" ry="2.77" fill="#9d9d9d"/><ellipse cx="476.9" cy="152.0" rx="1.45" ry="2.10" fill="#d0d0d0"/><ellipse cx="476.9" cy="152.0" rx="0.99" ry="1.43" fill="#ffffff"/><ellipse cx="476.9" cy="163.0" rx="3.20" ry="3.20" fill="#434343"/><ellipse cx="476.9" cy="163.0" rx="2.62" ry="2.62" fill="#6b6b6b"/><ellipse cx="476.9" cy="163.0" rx="2.11" ry="2.11" fill="#989898"/><ellipse cx="476.9" cy="163.0" rx="1.60" ry="1.60" fill="#c9c9c9"/><ellipse cx="476.9" cy="163.0" rx="1.09" ry="1.09" fill="#f6f6f6"/></g></g>
<path d="M236.77 173.60V131.82Q236.77 130.22 238.37 130.22H243.63Q245.23 130.22 245.23 131.82V173.60M262.12 173.60V131.82Q262.12 130.22 263.72 130.22H270.68Q272.28 130.22 272.28 131.82V173.60M287.67 173.60V131.82Q287.67 130.22 289.27 130.22H297.93Q299.53 130.22 299.53 131.82V173.60M312.77 173.60V131.82Q312.77 130.22 314.37 130.22H324.63Q326.23 130.22 326.23 131.82V173.60M339.12 173.60V131.82Q339.12 130.22 340.72 130.22H350.88Q352.48 130.22 352.48 131.82V173.60M364.87 173.60V131.82Q364.87 130.22 366.47 130.22H376.73Q378.33 130.22 378.33 131.82V173.60M391.12 173.60V131.82Q391.12 130.22 392.72 130.22H403.28Q404.88 130.22 404.88 131.82V173.60M417.02 173.60V131.82Q417.02 130.22 418.62 130.22H429.58Q431.18 130.22 431.18 131.82V173.60M443.37 173.60V131.82Q443.37 130.22 444.97 130.22H456.03Q457.63 130.22 457.63 131.82V173.60M468.62 173.60V131.82Q468.62 130.22 470.22 130.22H483.58Q485.18 130.22 485.18 131.82V173.60M224.4 173.60H492.9" fill="none" stroke="#fff" stroke-width="1.45"/>
<path d="M279.9 175.7v-2.6M345.6 175.7v-2.6M411.3 175.7v-2.6M477.0 175.7v-2.6" stroke="#222" stroke-width=".7" fill="none"/>
<text transform="translate(222.2 139.7) scale(1.08 1)" text-anchor="end" font-family="Liberation Sans, sans-serif" font-size="10.6" fill="#222">1.5</text>
<text transform="translate(222.2 152.3) scale(1.08 1)" text-anchor="end" font-family="Liberation Sans, sans-serif" font-size="10.6" fill="#222">1</text>
<text transform="translate(222.2 164.9) scale(1.08 1)" text-anchor="end" font-family="Liberation Sans, sans-serif" font-size="10.6" fill="#222">0.5</text>
<text transform="translate(222.2 177.5) scale(1.08 1)" text-anchor="end" font-family="Liberation Sans, sans-serif" font-size="10.6" fill="#222">0</text>
<text transform="translate(279.9 190.3) scale(1.08 1)" text-anchor="middle" font-family="Liberation Sans, sans-serif" font-size="10.6" fill="#222">2</text>
<text transform="translate(345.6 190.3) scale(1.08 1)" text-anchor="middle" font-family="Liberation Sans, sans-serif" font-size="10.6" fill="#222">4</text>
<text transform="translate(411.3 190.3) scale(1.08 1)" text-anchor="middle" font-family="Liberation Sans, sans-serif" font-size="10.6" fill="#222">6</text>
<text transform="translate(477.0 190.3) scale(1.08 1)" text-anchor="middle" font-family="Liberation Sans, sans-serif" font-size="10.6" fill="#222">8</text>
<text x="357.5" y="205.2" text-anchor="middle" font-family="Liberation Sans, sans-serif" font-size="12.5" font-weight="bold" fill="#111">X (μm)</text>
<text transform="translate(198.3 150.6) rotate(-90)" text-anchor="middle" font-family="Liberation Sans, sans-serif" font-size="12.5" font-weight="bold" fill="#111">Z (μm)</text>
<rect x="503.4" y="124.8" width="14.4" height="50.8" fill="url(#jet)" stroke="#444" stroke-width=".4"/>
<text transform="translate(522.8 129.0) scale(1.08 1)" font-family="Liberation Sans, sans-serif" font-size="10.6" fill="#222">1</text>
<text transform="translate(522.8 154.4) scale(1.08 1)" font-family="Liberation Sans, sans-serif" font-size="10.6" fill="#222">0.5</text>
<text transform="translate(522.8 179.8) scale(1.08 1)" font-family="Liberation Sans, sans-serif" font-size="10.6" fill="#222">0</text>
<g transform="translate(177.00 242.20)"><g clip-path="url(#cpc)"><g filter="url(#soft)"><g filter="url(#jm)" opacity="1.0000"><rect x="-5" y="-5" width="145.1" height="146.2" fill="url(#gu0)"/><rect x="-5" y="-5" width="145.1" height="146.2" fill="url(#gv0)" opacity="0.5"/></g><g filter="url(#jm)" opacity="0.5000"><rect x="-5" y="-5" width="145.1" height="146.2" fill="url(#gu1)"/><rect x="-5" y="-5" width="145.1" height="146.2" fill="url(#gv1)" opacity="0.5"/></g><g filter="url(#jm)" opacity="0.3333"><rect x="-5" y="-5" width="145.1" height="146.2" fill="url(#gu2)"/><rect x="-5" y="-5" width="145.1" height="146.2" fill="url(#gv2)" opacity="0.5"/></g><g filter="url(#jm)" opacity="0.2500"><rect x="-5" y="-5" width="145.1" height="146.2" fill="url(#gu3)"/><rect x="-5" y="-5" width="145.1" height="146.2" fill="url(#gv3)" opacity="0.5"/></g><g filter="url(#jm)" opacity="0.2000"><rect x="-5" y="-5" width="145.1" height="146.2" fill="url(#gu4)"/><rect x="-5" y="-5" width="145.1" height="146.2" fill="url(#gv4)" opacity="0.5"/></g><g filter="url(#jm)" opacity="0.1667"><rect x="-5" y="-5" width="145.1" height="146.2" fill="url(#gu5)"/><rect x="-5" y="-5" width="145.1" height="146.2" fill="url(#gv5)" opacity="0.5"/></g><g filter="url(#jm)" opacity="0.1429"><rect x="-5" y="-5" width="145.1" height="146.2" fill="url(#gu6)"/><rect x="-5" y="-5" width="145.1" height="146.2" fill="url(#gv6)" opacity="0.5"/></g><g filter="url(#jm)" opacity="0.1250"><rect x="-5" y="-5" width="145.1" height="146.2" fill="url(#gu7)"/><rect x="-5" y="-5" width="145.1" height="146.2" fill="url(#gv7)" opacity="0.5"/></g><g filter="url(#jm)" opacity="0.1111"><rect x="-5" y="-5" width="145.1" height="146.2" fill="url(#gu8)"/><rect x="-5" y="-5" width="145.1" height="146.2" fill="url(#gv8)" opacity="0.5"/></g></g><rect x="-1" y="-1" width="137.1" height="138.2" fill="url(#mh)"/><rect x="-1" y="-1" width="137.1" height="138.2" fill="url(#mv)"/></g></g>
<rect x="318.3" y="242.8" width="13.6" height="135.1" fill="url(#jet)" stroke="#444" stroke-width=".4"/>
<text x="308.0" y="235.8" font-family="Liberation Sans, sans-serif" font-size="12.6" fill="#111">phase</text>
<text transform="translate(336.8 247.6) scale(1.07 1)" font-family="Liberation Sans, sans-serif" font-size="11.6" fill="#111">2<tspan font-family="Liberation Sans, sans-serif" font-style="italic" font-size="9.6">π</tspan></text>
<text transform="translate(336.8 281.3) scale(1.07 1)" font-family="Liberation Sans, sans-serif" font-size="11.6" fill="#111">3<tspan font-family="Liberation Sans, sans-serif" font-style="italic" font-size="9.6">π</tspan>/2</text>
<text transform="translate(336.8 315.1) scale(1.07 1)" font-family="Liberation Sans, sans-serif" font-size="11.6" fill="#111"><tspan font-family="Liberation Sans, sans-serif" font-style="italic" font-size="9.6">π</tspan></text>
<text transform="translate(336.8 349.0) scale(1.07 1)" font-family="Liberation Sans, sans-serif" font-size="11.6" fill="#111"><tspan font-family="Liberation Sans, sans-serif" font-style="italic" font-size="9.6">π</tspan>/2</text>
<text transform="translate(336.8 382.8) scale(1.07 1)" font-family="Liberation Sans, sans-serif" font-size="11.6" fill="#111">0</text>
<rect x="503.5" y="242.8" width="13.6" height="135.1" fill="url(#jet)" stroke="#444" stroke-width=".4"/>
<text x="493.2" y="235.8" font-family="Liberation Sans, sans-serif" font-size="12.6" fill="#111">phase</text>
<text transform="translate(522.0 247.6) scale(1.07 1)" font-family="Liberation Sans, sans-serif" font-size="11.6" fill="#111">2<tspan font-family="Liberation Sans, sans-serif" font-style="italic" font-size="9.6">π</tspan></text>
<text transform="translate(522.0 281.3) scale(1.07 1)" font-family="Liberation Sans, sans-serif" font-size="11.6" fill="#111">3<tspan font-family="Liberation Sans, sans-serif" font-style="italic" font-size="9.6">π</tspan>/2</text>
<text transform="translate(522.0 315.1) scale(1.07 1)" font-family="Liberation Sans, sans-serif" font-size="11.6" fill="#111"><tspan font-family="Liberation Sans, sans-serif" font-style="italic" font-size="9.6">π</tspan></text>
<text transform="translate(522.0 349.0) scale(1.07 1)" font-family="Liberation Sans, sans-serif" font-size="11.6" fill="#111"><tspan font-family="Liberation Sans, sans-serif" font-style="italic" font-size="9.6">π</tspan>/2</text>
<text transform="translate(522.0 382.8) scale(1.07 1)" font-family="Liberation Sans, sans-serif" font-size="11.6" fill="#111">0</text>
</svg>
<svg width="550" height="400" viewBox="0 0 550 400" style="position:absolute;left:0;top:0;z-index:3;pointer-events:none"><g fill="none" stroke="#2c3836" stroke-opacity=".38" stroke-width=".8"><rect x="177.40" y="242.60" width="134.30" height="135.40"/><rect x="362.30" y="242.60" width="135.20" height="135.40"/></g></svg>
<div style="position:absolute;left:361.90px;top:242.20px;width:136.00px;height:136.20px;overflow:hidden;z-index:2"><div class="pw" style="width:146.00px;height:146.20px"><div class="pd" style="opacity:1.0000;background:conic-gradient(from 79.2deg at 75.850px 74.050px,#fff,#000)"><i style="background:radial-gradient(circle at 73.350px 76.550px,var(--rs))"></i></div><div class="pd" style="opacity:0.5000;background:conic-gradient(from 79.2deg at 75.850px 74.550px,#fff,#000)"><i style="background:radial-gradient(circle at 73.350px 77.050px,var(--rs))"></i></div><div class="pd" style="opacity:0.3333;background:conic-gradient(from 79.2deg at 76.350px 74.050px,#fff,#000)"><i style="background:radial-gradient(circle at 73.850px 76.550px,var(--rs))"></i></div><div class="pd" style="opacity:0.2500;background:conic-gradient(from 79.2deg at 76.350px 74.550px,#fff,#000)"><i style="background:radial-gradient(circle at 73.850px 77.050px,var(--rs))"></i></div></div></div>
</body></html>
